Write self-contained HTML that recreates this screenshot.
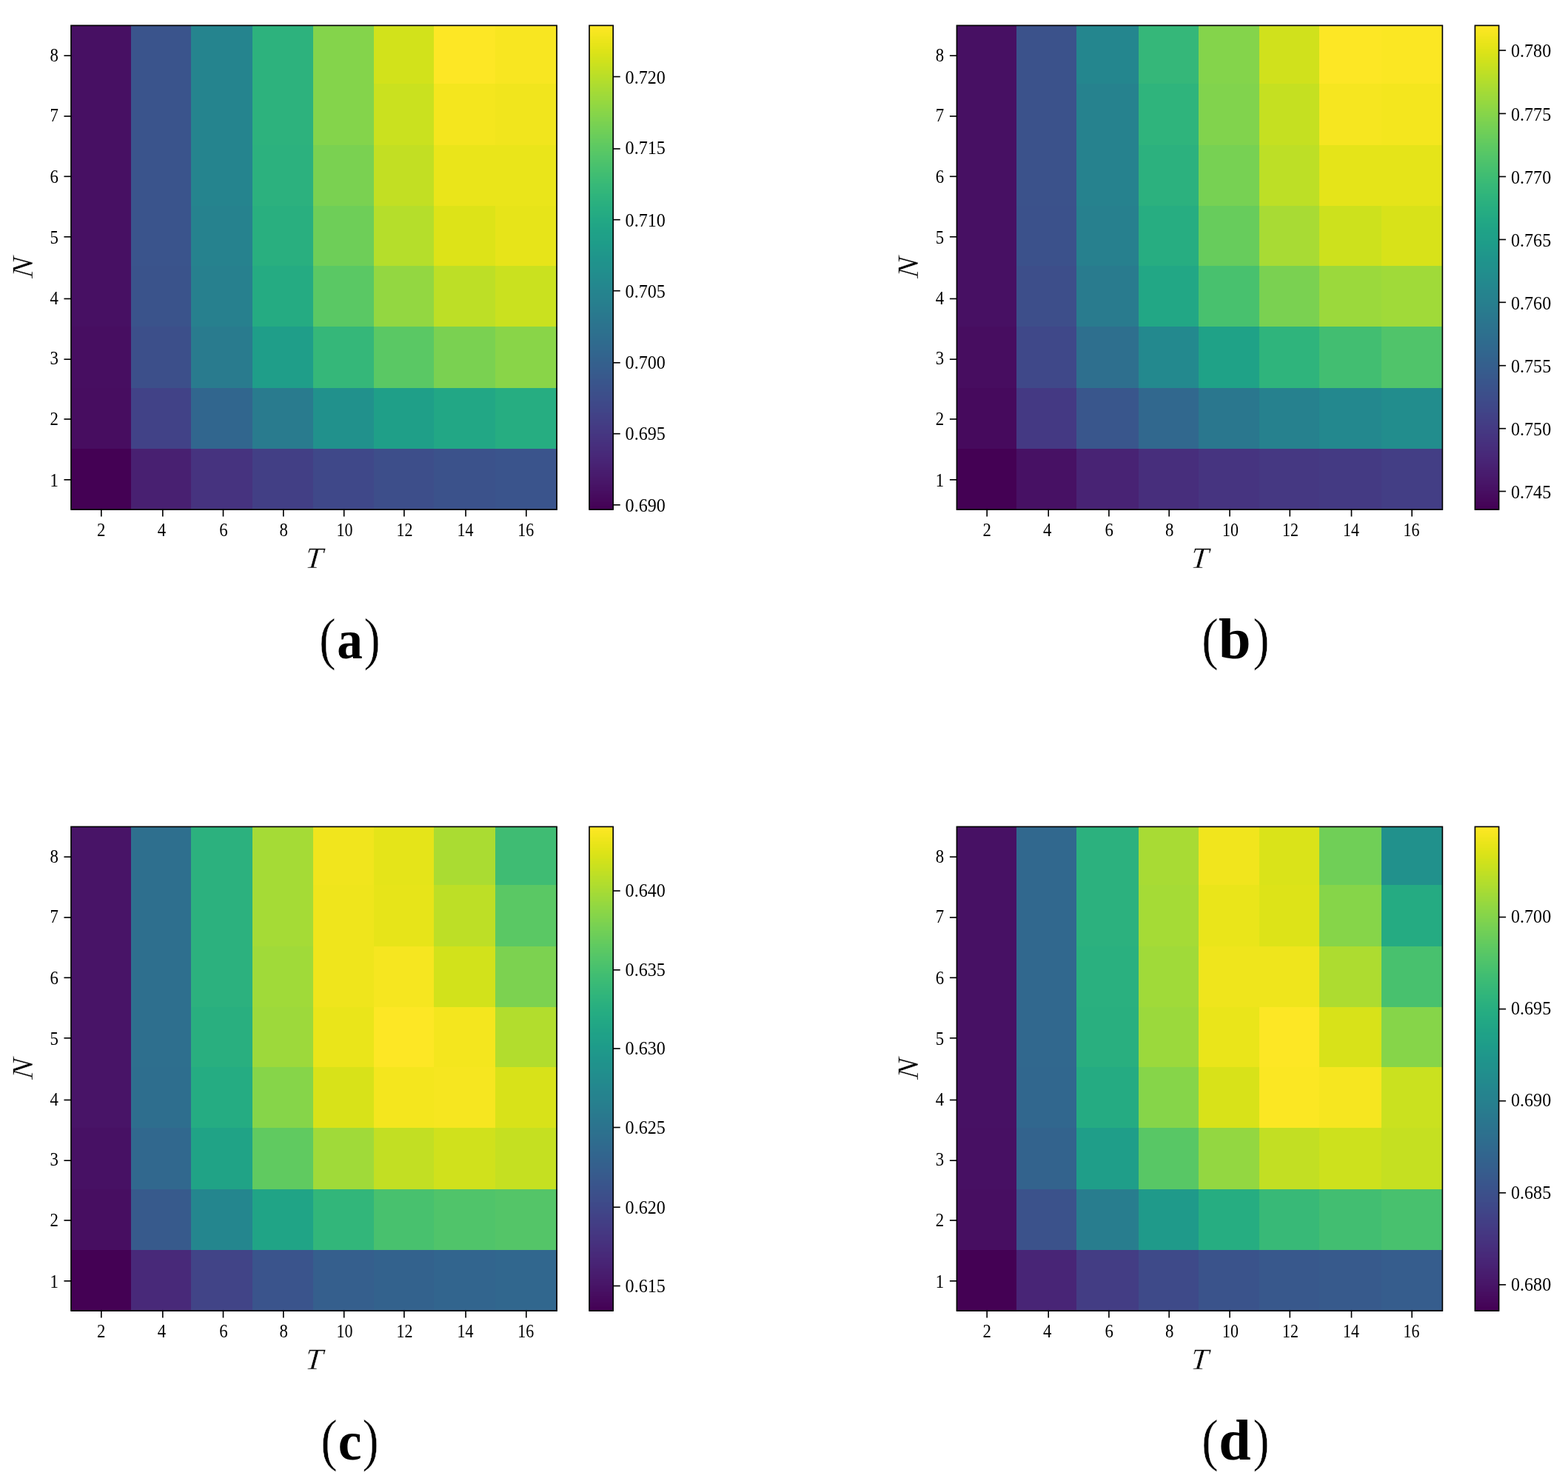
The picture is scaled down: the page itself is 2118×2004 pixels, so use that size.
<!DOCTYPE html>
<html lang="en">
<head>
<meta charset="utf-8">
<title>Heatmaps of N versus T</title>
<style>
html,body{margin:0;padding:0;background:#fff;}
body{width:2118px;height:2004px;overflow:hidden;}
svg{display:block;}
.tk{font-family:"Liberation Serif","DejaVu Serif",serif;font-size:25.7px;fill:#000;}
.lab{font-family:"Liberation Serif","DejaVu Serif",serif;font-style:italic;font-size:40.2px;fill:#000;stroke:#fff;stroke-width:0.35px;}
.cap{font-family:"Liberation Serif","DejaVu Serif",serif;font-size:72px;fill:#000;}
.cap .b{font-weight:bold;}
.cap .p{stroke:#fff;stroke-width:0.5px;}
.ln{stroke:#000;stroke-width:1.65;fill:none;}
</style>
</head>
<body>
<svg width="2118" height="2004" viewBox="0 0 2118 2004" role="img" aria-label="Four heatmaps of N versus T with colorbars, panels (a) to (d)">
<rect x="0" y="0" width="2118" height="2004" fill="#fff"/>
<g id="panel-a" transform="translate(0,0)">
<g shape-rendering="crispEdges">
<rect x="96" y="34.4" width="81.3" height="79.2" fill="#471063"/>
<rect x="176.8" y="34.4" width="81.6" height="79.2" fill="#3a548c"/>
<rect x="257.9" y="34.4" width="84" height="79.2" fill="#25848e"/>
<rect x="341.4" y="34.4" width="82.1" height="79.2" fill="#2db27d"/>
<rect x="423" y="34.4" width="82.3" height="79.2" fill="#84d44b"/>
<rect x="504.8" y="34.4" width="81.5" height="79.2" fill="#d2e21b"/>
<rect x="585.8" y="34.4" width="84.1" height="79.2" fill="#fde725"/>
<rect x="669.4" y="34.4" width="83.1" height="79.2" fill="#f8e621"/>
<rect x="96" y="113.1" width="81.3" height="83.7" fill="#471063"/>
<rect x="176.8" y="113.1" width="81.6" height="83.7" fill="#3a548c"/>
<rect x="257.9" y="113.1" width="84" height="83.7" fill="#25848e"/>
<rect x="341.4" y="113.1" width="82.1" height="83.7" fill="#2db27d"/>
<rect x="423" y="113.1" width="82.3" height="83.7" fill="#84d44b"/>
<rect x="504.8" y="113.1" width="81.5" height="83.7" fill="#cae11f"/>
<rect x="585.8" y="113.1" width="84.1" height="83.7" fill="#f4e61e"/>
<rect x="669.4" y="113.1" width="83.1" height="83.7" fill="#f1e51d"/>
<rect x="96" y="196.3" width="81.3" height="81.8" fill="#471063"/>
<rect x="176.8" y="196.3" width="81.6" height="81.8" fill="#3a548c"/>
<rect x="257.9" y="196.3" width="84" height="81.8" fill="#25848e"/>
<rect x="341.4" y="196.3" width="82.1" height="81.8" fill="#2cb17e"/>
<rect x="423" y="196.3" width="82.3" height="81.8" fill="#7ad151"/>
<rect x="504.8" y="196.3" width="81.5" height="81.8" fill="#c2df23"/>
<rect x="585.8" y="196.3" width="84.1" height="81.8" fill="#eae51a"/>
<rect x="669.4" y="196.3" width="83.1" height="81.8" fill="#eae51a"/>
<rect x="96" y="277.6" width="81.3" height="81.9" fill="#471063"/>
<rect x="176.8" y="277.6" width="81.6" height="81.9" fill="#3a548c"/>
<rect x="257.9" y="277.6" width="84" height="81.9" fill="#26828e"/>
<rect x="341.4" y="277.6" width="82.1" height="81.9" fill="#29af7f"/>
<rect x="423" y="277.6" width="82.3" height="81.9" fill="#6ece58"/>
<rect x="504.8" y="277.6" width="81.5" height="81.9" fill="#b5de2b"/>
<rect x="585.8" y="277.6" width="84.1" height="81.9" fill="#dde318"/>
<rect x="669.4" y="277.6" width="83.1" height="81.9" fill="#e7e419"/>
<rect x="96" y="359" width="81.3" height="82.4" fill="#471063"/>
<rect x="176.8" y="359" width="81.6" height="82.4" fill="#3a538b"/>
<rect x="257.9" y="359" width="84" height="82.4" fill="#27808e"/>
<rect x="341.4" y="359" width="82.1" height="82.4" fill="#25ab82"/>
<rect x="423" y="359" width="82.3" height="82.4" fill="#5ac864"/>
<rect x="504.8" y="359" width="81.5" height="82.4" fill="#93d741"/>
<rect x="585.8" y="359" width="84.1" height="82.4" fill="#bddf26"/>
<rect x="669.4" y="359" width="83.1" height="82.4" fill="#cae11f"/>
<rect x="96" y="440.9" width="81.3" height="83.9" fill="#470e61"/>
<rect x="176.8" y="440.9" width="81.6" height="83.9" fill="#3c4f8a"/>
<rect x="257.9" y="440.9" width="84" height="83.9" fill="#297b8e"/>
<rect x="341.4" y="440.9" width="82.1" height="83.9" fill="#1f9e89"/>
<rect x="423" y="440.9" width="82.3" height="83.9" fill="#35b779"/>
<rect x="504.8" y="440.9" width="81.5" height="83.9" fill="#5ac864"/>
<rect x="585.8" y="440.9" width="84.1" height="83.9" fill="#7ad151"/>
<rect x="669.4" y="440.9" width="83.1" height="83.9" fill="#89d548"/>
<rect x="96" y="524.3" width="81.3" height="82.3" fill="#470d60"/>
<rect x="176.8" y="524.3" width="81.6" height="82.3" fill="#414287"/>
<rect x="257.9" y="524.3" width="84" height="82.3" fill="#31668e"/>
<rect x="341.4" y="524.3" width="82.1" height="82.3" fill="#297b8e"/>
<rect x="423" y="524.3" width="82.3" height="82.3" fill="#21918c"/>
<rect x="504.8" y="524.3" width="81.5" height="82.3" fill="#1f9f88"/>
<rect x="585.8" y="524.3" width="84.1" height="82.3" fill="#22a785"/>
<rect x="669.4" y="524.3" width="83.1" height="82.3" fill="#26ad81"/>
<rect x="96" y="606.1" width="81.3" height="82.4" fill="#440154"/>
<rect x="176.8" y="606.1" width="81.6" height="82.4" fill="#482071"/>
<rect x="257.9" y="606.1" width="84" height="82.4" fill="#46337f"/>
<rect x="341.4" y="606.1" width="82.1" height="82.4" fill="#423f85"/>
<rect x="423" y="606.1" width="82.3" height="82.4" fill="#3f4889"/>
<rect x="504.8" y="606.1" width="81.5" height="82.4" fill="#3d4e8a"/>
<rect x="585.8" y="606.1" width="84.1" height="82.4" fill="#3b528b"/>
<rect x="669.4" y="606.1" width="83.1" height="82.4" fill="#3a548c"/>
</g>
<rect class="ln" x="96" y="34.4" width="656" height="653.6"/>
<line class="ln" x1="136.8" y1="688" x2="136.8" y2="697.53"/>
<text class="tk" x="136.7" y="724.4" text-anchor="middle" textLength="11.4" lengthAdjust="spacingAndGlyphs">2</text>
<line class="ln" x1="219.8" y1="688" x2="219.8" y2="697.53"/>
<text class="tk" x="218.4" y="724.4" text-anchor="middle" textLength="11.4" lengthAdjust="spacingAndGlyphs">4</text>
<line class="ln" x1="301.5" y1="688" x2="301.5" y2="697.53"/>
<text class="tk" x="301.9" y="724.4" text-anchor="middle" textLength="11.4" lengthAdjust="spacingAndGlyphs">6</text>
<line class="ln" x1="382.8" y1="688" x2="382.8" y2="697.53"/>
<text class="tk" x="383.3" y="724.4" text-anchor="middle" textLength="11.4" lengthAdjust="spacingAndGlyphs">8</text>
<line class="ln" x1="464.7" y1="688" x2="464.7" y2="697.53"/>
<text class="tk" x="465.5" y="724.4" text-anchor="middle" textLength="22" lengthAdjust="spacingAndGlyphs">10</text>
<line class="ln" x1="545.9" y1="688" x2="545.9" y2="697.53"/>
<text class="tk" x="546.6" y="724.4" text-anchor="middle" textLength="22" lengthAdjust="spacingAndGlyphs">12</text>
<line class="ln" x1="629.1" y1="688" x2="629.1" y2="697.53"/>
<text class="tk" x="628.5" y="724.4" text-anchor="middle" textLength="22" lengthAdjust="spacingAndGlyphs">14</text>
<line class="ln" x1="710.8" y1="688" x2="710.8" y2="697.53"/>
<text class="tk" x="710.2" y="724.4" text-anchor="middle" textLength="22" lengthAdjust="spacingAndGlyphs">16</text>
<line class="ln" x1="86.47" y1="75.2" x2="96" y2="75.2"/>
<text class="tk" x="78.8" y="83" text-anchor="end" textLength="11.4" lengthAdjust="spacingAndGlyphs">8</text>
<line class="ln" x1="86.47" y1="156.95" x2="96" y2="156.95"/>
<text class="tk" x="78.8" y="164" text-anchor="end" textLength="11.4" lengthAdjust="spacingAndGlyphs">7</text>
<line class="ln" x1="86.47" y1="238.3" x2="96" y2="238.3"/>
<text class="tk" x="78.8" y="247.3" text-anchor="end" textLength="11.4" lengthAdjust="spacingAndGlyphs">6</text>
<line class="ln" x1="86.47" y1="319.8" x2="96" y2="319.8"/>
<text class="tk" x="78.8" y="329.4" text-anchor="end" textLength="11.4" lengthAdjust="spacingAndGlyphs">5</text>
<line class="ln" x1="86.47" y1="403.45" x2="96" y2="403.45"/>
<text class="tk" x="78.8" y="410.65" text-anchor="end" textLength="11.4" lengthAdjust="spacingAndGlyphs">4</text>
<line class="ln" x1="86.47" y1="485.2" x2="96" y2="485.2"/>
<text class="tk" x="78.8" y="492.2" text-anchor="end" textLength="11.4" lengthAdjust="spacingAndGlyphs">3</text>
<line class="ln" x1="86.47" y1="566" x2="96" y2="566"/>
<text class="tk" x="78.8" y="574.2" text-anchor="end" textLength="11.4" lengthAdjust="spacingAndGlyphs">2</text>
<line class="ln" x1="86.47" y1="647.85" x2="96" y2="647.85"/>
<text class="tk" x="78.8" y="656.5" text-anchor="end" textLength="11.4" lengthAdjust="spacingAndGlyphs">1</text>
<text class="lab" transform="translate(423.2,767.2) skewX(-5) scale(1.05,1)" text-anchor="middle">T</text>
<text class="lab" transform="translate(43.6,362) rotate(-90) skewX(-5) scale(1.04,1)" text-anchor="middle">N</text>
<g class="cb" shape-rendering="crispEdges">
<rect x="796" y="685.45" width="32.2" height="3.15" fill="#440154"/>
<rect x="796" y="682.89" width="32.2" height="3.15" fill="#440256"/>
<rect x="796" y="680.34" width="32.2" height="3.15" fill="#450457"/>
<rect x="796" y="677.79" width="32.2" height="3.15" fill="#450559"/>
<rect x="796" y="675.23" width="32.2" height="3.15" fill="#46075a"/>
<rect x="796" y="672.68" width="32.2" height="3.15" fill="#46085c"/>
<rect x="796" y="670.13" width="32.2" height="3.15" fill="#460a5d"/>
<rect x="796" y="667.58" width="32.2" height="3.15" fill="#460b5e"/>
<rect x="796" y="665.02" width="32.2" height="3.15" fill="#470d60"/>
<rect x="796" y="662.47" width="32.2" height="3.15" fill="#470e61"/>
<rect x="796" y="659.92" width="32.2" height="3.15" fill="#471063"/>
<rect x="796" y="657.36" width="32.2" height="3.15" fill="#471164"/>
<rect x="796" y="654.81" width="32.2" height="3.15" fill="#471365"/>
<rect x="796" y="652.26" width="32.2" height="3.15" fill="#481467"/>
<rect x="796" y="649.7" width="32.2" height="3.15" fill="#481668"/>
<rect x="796" y="647.15" width="32.2" height="3.15" fill="#481769"/>
<rect x="796" y="644.6" width="32.2" height="3.15" fill="#48186a"/>
<rect x="796" y="642.04" width="32.2" height="3.15" fill="#481a6c"/>
<rect x="796" y="639.49" width="32.2" height="3.15" fill="#481b6d"/>
<rect x="796" y="636.94" width="32.2" height="3.15" fill="#481c6e"/>
<rect x="796" y="634.38" width="32.2" height="3.15" fill="#481d6f"/>
<rect x="796" y="631.83" width="32.2" height="3.15" fill="#481f70"/>
<rect x="796" y="629.28" width="32.2" height="3.15" fill="#482071"/>
<rect x="796" y="626.73" width="32.2" height="3.15" fill="#482173"/>
<rect x="796" y="624.17" width="32.2" height="3.15" fill="#482374"/>
<rect x="796" y="621.62" width="32.2" height="3.15" fill="#482475"/>
<rect x="796" y="619.07" width="32.2" height="3.15" fill="#482576"/>
<rect x="796" y="616.51" width="32.2" height="3.15" fill="#482677"/>
<rect x="796" y="613.96" width="32.2" height="3.15" fill="#482878"/>
<rect x="796" y="611.41" width="32.2" height="3.15" fill="#482979"/>
<rect x="796" y="608.85" width="32.2" height="3.15" fill="#472a7a"/>
<rect x="796" y="606.3" width="32.2" height="3.15" fill="#472c7a"/>
<rect x="796" y="603.75" width="32.2" height="3.15" fill="#472d7b"/>
<rect x="796" y="601.19" width="32.2" height="3.15" fill="#472e7c"/>
<rect x="796" y="598.64" width="32.2" height="3.15" fill="#472f7d"/>
<rect x="796" y="596.09" width="32.2" height="3.15" fill="#46307e"/>
<rect x="796" y="593.53" width="32.2" height="3.15" fill="#46327e"/>
<rect x="796" y="590.98" width="32.2" height="3.15" fill="#46337f"/>
<rect x="796" y="588.43" width="32.2" height="3.15" fill="#463480"/>
<rect x="796" y="585.88" width="32.2" height="3.15" fill="#453581"/>
<rect x="796" y="583.32" width="32.2" height="3.15" fill="#453781"/>
<rect x="796" y="580.77" width="32.2" height="3.15" fill="#453882"/>
<rect x="796" y="578.22" width="32.2" height="3.15" fill="#443983"/>
<rect x="796" y="575.66" width="32.2" height="3.15" fill="#443a83"/>
<rect x="796" y="573.11" width="32.2" height="3.15" fill="#443b84"/>
<rect x="796" y="570.56" width="32.2" height="3.15" fill="#433d84"/>
<rect x="796" y="568" width="32.2" height="3.15" fill="#433e85"/>
<rect x="796" y="565.45" width="32.2" height="3.15" fill="#423f85"/>
<rect x="796" y="562.9" width="32.2" height="3.15" fill="#424086"/>
<rect x="796" y="560.34" width="32.2" height="3.15" fill="#424186"/>
<rect x="796" y="557.79" width="32.2" height="3.15" fill="#414287"/>
<rect x="796" y="555.24" width="32.2" height="3.15" fill="#414487"/>
<rect x="796" y="552.68" width="32.2" height="3.15" fill="#404588"/>
<rect x="796" y="550.13" width="32.2" height="3.15" fill="#404688"/>
<rect x="796" y="547.58" width="32.2" height="3.15" fill="#3f4788"/>
<rect x="796" y="545.02" width="32.2" height="3.15" fill="#3f4889"/>
<rect x="796" y="542.47" width="32.2" height="3.15" fill="#3e4989"/>
<rect x="796" y="539.92" width="32.2" height="3.15" fill="#3e4a89"/>
<rect x="796" y="537.37" width="32.2" height="3.15" fill="#3e4c8a"/>
<rect x="796" y="534.81" width="32.2" height="3.15" fill="#3d4d8a"/>
<rect x="796" y="532.26" width="32.2" height="3.15" fill="#3d4e8a"/>
<rect x="796" y="529.71" width="32.2" height="3.15" fill="#3c4f8a"/>
<rect x="796" y="527.15" width="32.2" height="3.15" fill="#3c508b"/>
<rect x="796" y="524.6" width="32.2" height="3.15" fill="#3b518b"/>
<rect x="796" y="522.05" width="32.2" height="3.15" fill="#3b528b"/>
<rect x="796" y="519.49" width="32.2" height="3.15" fill="#3a538b"/>
<rect x="796" y="516.94" width="32.2" height="3.15" fill="#3a548c"/>
<rect x="796" y="514.39" width="32.2" height="3.15" fill="#39558c"/>
<rect x="796" y="511.83" width="32.2" height="3.15" fill="#39568c"/>
<rect x="796" y="509.28" width="32.2" height="3.15" fill="#38588c"/>
<rect x="796" y="506.73" width="32.2" height="3.15" fill="#38598c"/>
<rect x="796" y="504.17" width="32.2" height="3.15" fill="#375a8c"/>
<rect x="796" y="501.62" width="32.2" height="3.15" fill="#375b8d"/>
<rect x="796" y="499.07" width="32.2" height="3.15" fill="#365c8d"/>
<rect x="796" y="496.52" width="32.2" height="3.15" fill="#365d8d"/>
<rect x="796" y="493.96" width="32.2" height="3.15" fill="#355e8d"/>
<rect x="796" y="491.41" width="32.2" height="3.15" fill="#355f8d"/>
<rect x="796" y="488.86" width="32.2" height="3.15" fill="#34608d"/>
<rect x="796" y="486.3" width="32.2" height="3.15" fill="#34618d"/>
<rect x="796" y="483.75" width="32.2" height="3.15" fill="#33628d"/>
<rect x="796" y="481.2" width="32.2" height="3.15" fill="#33638d"/>
<rect x="796" y="478.64" width="32.2" height="3.15" fill="#32648e"/>
<rect x="796" y="476.09" width="32.2" height="3.15" fill="#32658e"/>
<rect x="796" y="473.54" width="32.2" height="3.15" fill="#31668e"/>
<rect x="796" y="470.98" width="32.2" height="3.15" fill="#31678e"/>
<rect x="796" y="468.43" width="32.2" height="3.15" fill="#31688e"/>
<rect x="796" y="465.88" width="32.2" height="3.15" fill="#30698e"/>
<rect x="796" y="463.32" width="32.2" height="3.15" fill="#306a8e"/>
<rect x="796" y="460.77" width="32.2" height="3.15" fill="#2f6b8e"/>
<rect x="796" y="458.22" width="32.2" height="3.15" fill="#2f6c8e"/>
<rect x="796" y="455.67" width="32.2" height="3.15" fill="#2e6d8e"/>
<rect x="796" y="453.11" width="32.2" height="3.15" fill="#2e6e8e"/>
<rect x="796" y="450.56" width="32.2" height="3.15" fill="#2e6f8e"/>
<rect x="796" y="448.01" width="32.2" height="3.15" fill="#2d708e"/>
<rect x="796" y="445.45" width="32.2" height="3.15" fill="#2d718e"/>
<rect x="796" y="442.9" width="32.2" height="3.15" fill="#2c718e"/>
<rect x="796" y="440.35" width="32.2" height="3.15" fill="#2c728e"/>
<rect x="796" y="437.79" width="32.2" height="3.15" fill="#2c738e"/>
<rect x="796" y="435.24" width="32.2" height="3.15" fill="#2b748e"/>
<rect x="796" y="432.69" width="32.2" height="3.15" fill="#2b758e"/>
<rect x="796" y="430.13" width="32.2" height="3.15" fill="#2a768e"/>
<rect x="796" y="427.58" width="32.2" height="3.15" fill="#2a778e"/>
<rect x="796" y="425.03" width="32.2" height="3.15" fill="#2a788e"/>
<rect x="796" y="422.47" width="32.2" height="3.15" fill="#29798e"/>
<rect x="796" y="419.92" width="32.2" height="3.15" fill="#297a8e"/>
<rect x="796" y="417.37" width="32.2" height="3.15" fill="#297b8e"/>
<rect x="796" y="414.82" width="32.2" height="3.15" fill="#287c8e"/>
<rect x="796" y="412.26" width="32.2" height="3.15" fill="#287d8e"/>
<rect x="796" y="409.71" width="32.2" height="3.15" fill="#277e8e"/>
<rect x="796" y="407.16" width="32.2" height="3.15" fill="#277f8e"/>
<rect x="796" y="404.6" width="32.2" height="3.15" fill="#27808e"/>
<rect x="796" y="402.05" width="32.2" height="3.15" fill="#26818e"/>
<rect x="796" y="399.5" width="32.2" height="3.15" fill="#26828e"/>
<rect x="796" y="396.94" width="32.2" height="3.15" fill="#26828e"/>
<rect x="796" y="394.39" width="32.2" height="3.15" fill="#25838e"/>
<rect x="796" y="391.84" width="32.2" height="3.15" fill="#25848e"/>
<rect x="796" y="389.28" width="32.2" height="3.15" fill="#25858e"/>
<rect x="796" y="386.73" width="32.2" height="3.15" fill="#24868e"/>
<rect x="796" y="384.18" width="32.2" height="3.15" fill="#24878e"/>
<rect x="796" y="381.62" width="32.2" height="3.15" fill="#23888e"/>
<rect x="796" y="379.07" width="32.2" height="3.15" fill="#23898e"/>
<rect x="796" y="376.52" width="32.2" height="3.15" fill="#238a8d"/>
<rect x="796" y="373.97" width="32.2" height="3.15" fill="#228b8d"/>
<rect x="796" y="371.41" width="32.2" height="3.15" fill="#228c8d"/>
<rect x="796" y="368.86" width="32.2" height="3.15" fill="#228d8d"/>
<rect x="796" y="366.31" width="32.2" height="3.15" fill="#218e8d"/>
<rect x="796" y="363.75" width="32.2" height="3.15" fill="#218f8d"/>
<rect x="796" y="361.2" width="32.2" height="3.15" fill="#21908d"/>
<rect x="796" y="358.65" width="32.2" height="3.15" fill="#21918c"/>
<rect x="796" y="356.09" width="32.2" height="3.15" fill="#20928c"/>
<rect x="796" y="353.54" width="32.2" height="3.15" fill="#20928c"/>
<rect x="796" y="350.99" width="32.2" height="3.15" fill="#20938c"/>
<rect x="796" y="348.43" width="32.2" height="3.15" fill="#1f948c"/>
<rect x="796" y="345.88" width="32.2" height="3.15" fill="#1f958b"/>
<rect x="796" y="343.33" width="32.2" height="3.15" fill="#1f968b"/>
<rect x="796" y="340.77" width="32.2" height="3.15" fill="#1f978b"/>
<rect x="796" y="338.22" width="32.2" height="3.15" fill="#1f988b"/>
<rect x="796" y="335.67" width="32.2" height="3.15" fill="#1f998a"/>
<rect x="796" y="333.12" width="32.2" height="3.15" fill="#1f9a8a"/>
<rect x="796" y="330.56" width="32.2" height="3.15" fill="#1e9b8a"/>
<rect x="796" y="328.01" width="32.2" height="3.15" fill="#1e9c89"/>
<rect x="796" y="325.46" width="32.2" height="3.15" fill="#1e9d89"/>
<rect x="796" y="322.9" width="32.2" height="3.15" fill="#1f9e89"/>
<rect x="796" y="320.35" width="32.2" height="3.15" fill="#1f9f88"/>
<rect x="796" y="317.8" width="32.2" height="3.15" fill="#1fa088"/>
<rect x="796" y="315.24" width="32.2" height="3.15" fill="#1fa188"/>
<rect x="796" y="312.69" width="32.2" height="3.15" fill="#1fa187"/>
<rect x="796" y="310.14" width="32.2" height="3.15" fill="#1fa287"/>
<rect x="796" y="307.58" width="32.2" height="3.15" fill="#20a386"/>
<rect x="796" y="305.03" width="32.2" height="3.15" fill="#20a486"/>
<rect x="796" y="302.48" width="32.2" height="3.15" fill="#21a585"/>
<rect x="796" y="299.93" width="32.2" height="3.15" fill="#21a685"/>
<rect x="796" y="297.37" width="32.2" height="3.15" fill="#22a785"/>
<rect x="796" y="294.82" width="32.2" height="3.15" fill="#22a884"/>
<rect x="796" y="292.27" width="32.2" height="3.15" fill="#23a983"/>
<rect x="796" y="289.71" width="32.2" height="3.15" fill="#24aa83"/>
<rect x="796" y="287.16" width="32.2" height="3.15" fill="#25ab82"/>
<rect x="796" y="284.61" width="32.2" height="3.15" fill="#25ac82"/>
<rect x="796" y="282.05" width="32.2" height="3.15" fill="#26ad81"/>
<rect x="796" y="279.5" width="32.2" height="3.15" fill="#27ad81"/>
<rect x="796" y="276.95" width="32.2" height="3.15" fill="#28ae80"/>
<rect x="796" y="274.39" width="32.2" height="3.15" fill="#29af7f"/>
<rect x="796" y="271.84" width="32.2" height="3.15" fill="#2ab07f"/>
<rect x="796" y="269.29" width="32.2" height="3.15" fill="#2cb17e"/>
<rect x="796" y="266.73" width="32.2" height="3.15" fill="#2db27d"/>
<rect x="796" y="264.18" width="32.2" height="3.15" fill="#2eb37c"/>
<rect x="796" y="261.63" width="32.2" height="3.15" fill="#2fb47c"/>
<rect x="796" y="259.07" width="32.2" height="3.15" fill="#31b57b"/>
<rect x="796" y="256.52" width="32.2" height="3.15" fill="#32b67a"/>
<rect x="796" y="253.97" width="32.2" height="3.15" fill="#34b679"/>
<rect x="796" y="251.42" width="32.2" height="3.15" fill="#35b779"/>
<rect x="796" y="248.86" width="32.2" height="3.15" fill="#37b878"/>
<rect x="796" y="246.31" width="32.2" height="3.15" fill="#38b977"/>
<rect x="796" y="243.76" width="32.2" height="3.15" fill="#3aba76"/>
<rect x="796" y="241.2" width="32.2" height="3.15" fill="#3bbb75"/>
<rect x="796" y="238.65" width="32.2" height="3.15" fill="#3dbc74"/>
<rect x="796" y="236.1" width="32.2" height="3.15" fill="#3fbc73"/>
<rect x="796" y="233.54" width="32.2" height="3.15" fill="#40bd72"/>
<rect x="796" y="230.99" width="32.2" height="3.15" fill="#42be71"/>
<rect x="796" y="228.44" width="32.2" height="3.15" fill="#44bf70"/>
<rect x="796" y="225.88" width="32.2" height="3.15" fill="#46c06f"/>
<rect x="796" y="223.33" width="32.2" height="3.15" fill="#48c16e"/>
<rect x="796" y="220.78" width="32.2" height="3.15" fill="#4ac16d"/>
<rect x="796" y="218.22" width="32.2" height="3.15" fill="#4cc26c"/>
<rect x="796" y="215.67" width="32.2" height="3.15" fill="#4ec36b"/>
<rect x="796" y="213.12" width="32.2" height="3.15" fill="#50c46a"/>
<rect x="796" y="210.57" width="32.2" height="3.15" fill="#52c569"/>
<rect x="796" y="208.01" width="32.2" height="3.15" fill="#54c568"/>
<rect x="796" y="205.46" width="32.2" height="3.15" fill="#56c667"/>
<rect x="796" y="202.91" width="32.2" height="3.15" fill="#58c765"/>
<rect x="796" y="200.35" width="32.2" height="3.15" fill="#5ac864"/>
<rect x="796" y="197.8" width="32.2" height="3.15" fill="#5cc863"/>
<rect x="796" y="195.25" width="32.2" height="3.15" fill="#5ec962"/>
<rect x="796" y="192.69" width="32.2" height="3.15" fill="#60ca60"/>
<rect x="796" y="190.14" width="32.2" height="3.15" fill="#63cb5f"/>
<rect x="796" y="187.59" width="32.2" height="3.15" fill="#65cb5e"/>
<rect x="796" y="185.03" width="32.2" height="3.15" fill="#67cc5c"/>
<rect x="796" y="182.48" width="32.2" height="3.15" fill="#69cd5b"/>
<rect x="796" y="179.93" width="32.2" height="3.15" fill="#6ccd5a"/>
<rect x="796" y="177.38" width="32.2" height="3.15" fill="#6ece58"/>
<rect x="796" y="174.82" width="32.2" height="3.15" fill="#70cf57"/>
<rect x="796" y="172.27" width="32.2" height="3.15" fill="#73d056"/>
<rect x="796" y="169.72" width="32.2" height="3.15" fill="#75d054"/>
<rect x="796" y="167.16" width="32.2" height="3.15" fill="#77d153"/>
<rect x="796" y="164.61" width="32.2" height="3.15" fill="#7ad151"/>
<rect x="796" y="162.06" width="32.2" height="3.15" fill="#7cd250"/>
<rect x="796" y="159.5" width="32.2" height="3.15" fill="#7fd34e"/>
<rect x="796" y="156.95" width="32.2" height="3.15" fill="#81d34d"/>
<rect x="796" y="154.4" width="32.2" height="3.15" fill="#84d44b"/>
<rect x="796" y="151.84" width="32.2" height="3.15" fill="#86d549"/>
<rect x="796" y="149.29" width="32.2" height="3.15" fill="#89d548"/>
<rect x="796" y="146.74" width="32.2" height="3.15" fill="#8bd646"/>
<rect x="796" y="144.18" width="32.2" height="3.15" fill="#8ed645"/>
<rect x="796" y="141.63" width="32.2" height="3.15" fill="#90d743"/>
<rect x="796" y="139.08" width="32.2" height="3.15" fill="#93d741"/>
<rect x="796" y="136.52" width="32.2" height="3.15" fill="#95d840"/>
<rect x="796" y="133.97" width="32.2" height="3.15" fill="#98d83e"/>
<rect x="796" y="131.42" width="32.2" height="3.15" fill="#9bd93c"/>
<rect x="796" y="128.87" width="32.2" height="3.15" fill="#9dd93b"/>
<rect x="796" y="126.31" width="32.2" height="3.15" fill="#a0da39"/>
<rect x="796" y="123.76" width="32.2" height="3.15" fill="#a2da37"/>
<rect x="796" y="121.21" width="32.2" height="3.15" fill="#a5db36"/>
<rect x="796" y="118.65" width="32.2" height="3.15" fill="#a8db34"/>
<rect x="796" y="116.1" width="32.2" height="3.15" fill="#aadc32"/>
<rect x="796" y="113.55" width="32.2" height="3.15" fill="#addc30"/>
<rect x="796" y="110.99" width="32.2" height="3.15" fill="#b0dd2f"/>
<rect x="796" y="108.44" width="32.2" height="3.15" fill="#b2dd2d"/>
<rect x="796" y="105.89" width="32.2" height="3.15" fill="#b5de2b"/>
<rect x="796" y="103.33" width="32.2" height="3.15" fill="#b8de29"/>
<rect x="796" y="100.78" width="32.2" height="3.15" fill="#bade28"/>
<rect x="796" y="98.23" width="32.2" height="3.15" fill="#bddf26"/>
<rect x="796" y="95.67" width="32.2" height="3.15" fill="#c0df25"/>
<rect x="796" y="93.12" width="32.2" height="3.15" fill="#c2df23"/>
<rect x="796" y="90.57" width="32.2" height="3.15" fill="#c5e021"/>
<rect x="796" y="88.02" width="32.2" height="3.15" fill="#c8e020"/>
<rect x="796" y="85.46" width="32.2" height="3.15" fill="#cae11f"/>
<rect x="796" y="82.91" width="32.2" height="3.15" fill="#cde11d"/>
<rect x="796" y="80.36" width="32.2" height="3.15" fill="#d0e11c"/>
<rect x="796" y="77.8" width="32.2" height="3.15" fill="#d2e21b"/>
<rect x="796" y="75.25" width="32.2" height="3.15" fill="#d5e21a"/>
<rect x="796" y="72.7" width="32.2" height="3.15" fill="#d8e219"/>
<rect x="796" y="70.14" width="32.2" height="3.15" fill="#dae319"/>
<rect x="796" y="67.59" width="32.2" height="3.15" fill="#dde318"/>
<rect x="796" y="65.04" width="32.2" height="3.15" fill="#dfe318"/>
<rect x="796" y="62.48" width="32.2" height="3.15" fill="#e2e418"/>
<rect x="796" y="59.93" width="32.2" height="3.15" fill="#e5e419"/>
<rect x="796" y="57.38" width="32.2" height="3.15" fill="#e7e419"/>
<rect x="796" y="54.82" width="32.2" height="3.15" fill="#eae51a"/>
<rect x="796" y="52.27" width="32.2" height="3.15" fill="#ece51b"/>
<rect x="796" y="49.72" width="32.2" height="3.15" fill="#efe51c"/>
<rect x="796" y="47.17" width="32.2" height="3.15" fill="#f1e51d"/>
<rect x="796" y="44.61" width="32.2" height="3.15" fill="#f4e61e"/>
<rect x="796" y="42.06" width="32.2" height="3.15" fill="#f6e620"/>
<rect x="796" y="39.51" width="32.2" height="3.15" fill="#f8e621"/>
<rect x="796" y="36.95" width="32.2" height="3.15" fill="#fbe723"/>
<rect x="796" y="34.4" width="32.2" height="3.15" fill="#fde725"/>
</g>
<rect class="ln" x="796" y="34.4" width="32.2" height="653.6"/>
<line class="ln" x1="828.2" y1="103.55" x2="837.73" y2="103.55"/>
<text class="tk" x="844.6" y="113.1" textLength="54.2" lengthAdjust="spacingAndGlyphs">0.720</text>
<line class="ln" x1="828.2" y1="200.95" x2="837.73" y2="200.95"/>
<text class="tk" x="844.6" y="208.3" textLength="54.2" lengthAdjust="spacingAndGlyphs">0.715</text>
<line class="ln" x1="828.2" y1="296.7" x2="837.73" y2="296.7"/>
<text class="tk" x="844.6" y="306.1" textLength="54.2" lengthAdjust="spacingAndGlyphs">0.710</text>
<line class="ln" x1="828.2" y1="392.7" x2="837.73" y2="392.7"/>
<text class="tk" x="844.6" y="402" textLength="54.2" lengthAdjust="spacingAndGlyphs">0.705</text>
<line class="ln" x1="828.2" y1="489.8" x2="837.73" y2="489.8"/>
<text class="tk" x="844.6" y="498.3" textLength="54.2" lengthAdjust="spacingAndGlyphs">0.700</text>
<line class="ln" x1="828.2" y1="585.7" x2="837.73" y2="585.7"/>
<text class="tk" x="844.6" y="594.15" textLength="54.2" lengthAdjust="spacingAndGlyphs">0.695</text>
<line class="ln" x1="828.2" y1="681.8" x2="837.73" y2="681.8"/>
<text class="tk" x="844.6" y="691.1" textLength="54.2" lengthAdjust="spacingAndGlyphs">0.690</text>
<g class="cap"><text class="p" transform="translate(431.01,888.56) scale(0.9532,1.0741)">(</text><text class="b" transform="translate(455.32,889.03) scale(0.9615,1.0263)">a</text><text class="p" transform="translate(491.39,888.56) scale(0.9295,1.0741)">)</text></g>
</g>
<g id="panel-b" transform="translate(1196.4,0)">
<g shape-rendering="crispEdges">
<rect x="96" y="34.4" width="81.3" height="79.2" fill="#471063"/>
<rect x="176.8" y="34.4" width="81.6" height="79.2" fill="#3b528b"/>
<rect x="257.9" y="34.4" width="84" height="79.2" fill="#24868e"/>
<rect x="341.4" y="34.4" width="82.1" height="79.2" fill="#35b779"/>
<rect x="423" y="34.4" width="82.3" height="79.2" fill="#84d44b"/>
<rect x="504.8" y="34.4" width="81.5" height="79.2" fill="#d0e11c"/>
<rect x="585.8" y="34.4" width="84.1" height="79.2" fill="#fde725"/>
<rect x="669.4" y="34.4" width="83.1" height="79.2" fill="#fbe723"/>
<rect x="96" y="113.1" width="81.3" height="83.7" fill="#471063"/>
<rect x="176.8" y="113.1" width="81.6" height="83.7" fill="#3b528b"/>
<rect x="257.9" y="113.1" width="84" height="83.7" fill="#26828e"/>
<rect x="341.4" y="113.1" width="82.1" height="83.7" fill="#2fb47c"/>
<rect x="423" y="113.1" width="82.3" height="83.7" fill="#81d34d"/>
<rect x="504.8" y="113.1" width="81.5" height="83.7" fill="#c5e021"/>
<rect x="585.8" y="113.1" width="84.1" height="83.7" fill="#f6e620"/>
<rect x="669.4" y="113.1" width="83.1" height="83.7" fill="#f4e61e"/>
<rect x="96" y="196.3" width="81.3" height="81.8" fill="#471063"/>
<rect x="176.8" y="196.3" width="81.6" height="81.8" fill="#3b528b"/>
<rect x="257.9" y="196.3" width="84" height="81.8" fill="#26828e"/>
<rect x="341.4" y="196.3" width="82.1" height="81.8" fill="#2cb17e"/>
<rect x="423" y="196.3" width="82.3" height="81.8" fill="#77d153"/>
<rect x="504.8" y="196.3" width="81.5" height="81.8" fill="#bddf26"/>
<rect x="585.8" y="196.3" width="84.1" height="81.8" fill="#e5e419"/>
<rect x="669.4" y="196.3" width="83.1" height="81.8" fill="#e5e419"/>
<rect x="96" y="277.6" width="81.3" height="81.9" fill="#471063"/>
<rect x="176.8" y="277.6" width="81.6" height="81.9" fill="#3b518b"/>
<rect x="257.9" y="277.6" width="84" height="81.9" fill="#27808e"/>
<rect x="341.4" y="277.6" width="82.1" height="81.9" fill="#27ad81"/>
<rect x="423" y="277.6" width="82.3" height="81.9" fill="#67cc5c"/>
<rect x="504.8" y="277.6" width="81.5" height="81.9" fill="#a8db34"/>
<rect x="585.8" y="277.6" width="84.1" height="81.9" fill="#cde11d"/>
<rect x="669.4" y="277.6" width="83.1" height="81.9" fill="#d8e219"/>
<rect x="96" y="359" width="81.3" height="82.4" fill="#471063"/>
<rect x="176.8" y="359" width="81.6" height="82.4" fill="#3d4e8a"/>
<rect x="257.9" y="359" width="84" height="82.4" fill="#297b8e"/>
<rect x="341.4" y="359" width="82.1" height="82.4" fill="#22a785"/>
<rect x="423" y="359" width="82.3" height="82.4" fill="#48c16e"/>
<rect x="504.8" y="359" width="81.5" height="82.4" fill="#7ad151"/>
<rect x="585.8" y="359" width="84.1" height="82.4" fill="#9bd93c"/>
<rect x="669.4" y="359" width="83.1" height="82.4" fill="#a0da39"/>
<rect x="96" y="440.9" width="81.3" height="83.9" fill="#470d60"/>
<rect x="176.8" y="440.9" width="81.6" height="83.9" fill="#3f4889"/>
<rect x="257.9" y="440.9" width="84" height="83.9" fill="#2e6f8e"/>
<rect x="341.4" y="440.9" width="82.1" height="83.9" fill="#23898e"/>
<rect x="423" y="440.9" width="82.3" height="83.9" fill="#1fa287"/>
<rect x="504.8" y="440.9" width="81.5" height="83.9" fill="#2fb47c"/>
<rect x="585.8" y="440.9" width="84.1" height="83.9" fill="#42be71"/>
<rect x="669.4" y="440.9" width="83.1" height="83.9" fill="#50c46a"/>
<rect x="96" y="524.3" width="81.3" height="82.3" fill="#460a5d"/>
<rect x="176.8" y="524.3" width="81.6" height="82.3" fill="#443983"/>
<rect x="257.9" y="524.3" width="84" height="82.3" fill="#39568c"/>
<rect x="341.4" y="524.3" width="82.1" height="82.3" fill="#31688e"/>
<rect x="423" y="524.3" width="82.3" height="82.3" fill="#2a778e"/>
<rect x="504.8" y="524.3" width="81.5" height="82.3" fill="#26818e"/>
<rect x="585.8" y="524.3" width="84.1" height="82.3" fill="#23888e"/>
<rect x="669.4" y="524.3" width="83.1" height="82.3" fill="#228d8d"/>
<rect x="96" y="606.1" width="81.3" height="82.4" fill="#440154"/>
<rect x="176.8" y="606.1" width="81.6" height="82.4" fill="#471164"/>
<rect x="257.9" y="606.1" width="84" height="82.4" fill="#482374"/>
<rect x="341.4" y="606.1" width="82.1" height="82.4" fill="#472e7c"/>
<rect x="423" y="606.1" width="82.3" height="82.4" fill="#463480"/>
<rect x="504.8" y="606.1" width="81.5" height="82.4" fill="#453882"/>
<rect x="585.8" y="606.1" width="84.1" height="82.4" fill="#443a83"/>
<rect x="669.4" y="606.1" width="83.1" height="82.4" fill="#433e85"/>
</g>
<rect class="ln" x="96" y="34.4" width="656" height="653.6"/>
<line class="ln" x1="136.8" y1="688" x2="136.8" y2="697.53"/>
<text class="tk" x="136.7" y="724.4" text-anchor="middle" textLength="11.4" lengthAdjust="spacingAndGlyphs">2</text>
<line class="ln" x1="219.8" y1="688" x2="219.8" y2="697.53"/>
<text class="tk" x="218.4" y="724.4" text-anchor="middle" textLength="11.4" lengthAdjust="spacingAndGlyphs">4</text>
<line class="ln" x1="301.5" y1="688" x2="301.5" y2="697.53"/>
<text class="tk" x="301.9" y="724.4" text-anchor="middle" textLength="11.4" lengthAdjust="spacingAndGlyphs">6</text>
<line class="ln" x1="382.8" y1="688" x2="382.8" y2="697.53"/>
<text class="tk" x="383.3" y="724.4" text-anchor="middle" textLength="11.4" lengthAdjust="spacingAndGlyphs">8</text>
<line class="ln" x1="464.7" y1="688" x2="464.7" y2="697.53"/>
<text class="tk" x="465.5" y="724.4" text-anchor="middle" textLength="22" lengthAdjust="spacingAndGlyphs">10</text>
<line class="ln" x1="545.9" y1="688" x2="545.9" y2="697.53"/>
<text class="tk" x="546.6" y="724.4" text-anchor="middle" textLength="22" lengthAdjust="spacingAndGlyphs">12</text>
<line class="ln" x1="629.1" y1="688" x2="629.1" y2="697.53"/>
<text class="tk" x="628.5" y="724.4" text-anchor="middle" textLength="22" lengthAdjust="spacingAndGlyphs">14</text>
<line class="ln" x1="710.8" y1="688" x2="710.8" y2="697.53"/>
<text class="tk" x="710.2" y="724.4" text-anchor="middle" textLength="22" lengthAdjust="spacingAndGlyphs">16</text>
<line class="ln" x1="86.47" y1="75.2" x2="96" y2="75.2"/>
<text class="tk" x="78.8" y="83" text-anchor="end" textLength="11.4" lengthAdjust="spacingAndGlyphs">8</text>
<line class="ln" x1="86.47" y1="156.95" x2="96" y2="156.95"/>
<text class="tk" x="78.8" y="164" text-anchor="end" textLength="11.4" lengthAdjust="spacingAndGlyphs">7</text>
<line class="ln" x1="86.47" y1="238.3" x2="96" y2="238.3"/>
<text class="tk" x="78.8" y="247.3" text-anchor="end" textLength="11.4" lengthAdjust="spacingAndGlyphs">6</text>
<line class="ln" x1="86.47" y1="319.8" x2="96" y2="319.8"/>
<text class="tk" x="78.8" y="329.4" text-anchor="end" textLength="11.4" lengthAdjust="spacingAndGlyphs">5</text>
<line class="ln" x1="86.47" y1="403.45" x2="96" y2="403.45"/>
<text class="tk" x="78.8" y="410.65" text-anchor="end" textLength="11.4" lengthAdjust="spacingAndGlyphs">4</text>
<line class="ln" x1="86.47" y1="485.2" x2="96" y2="485.2"/>
<text class="tk" x="78.8" y="492.2" text-anchor="end" textLength="11.4" lengthAdjust="spacingAndGlyphs">3</text>
<line class="ln" x1="86.47" y1="566" x2="96" y2="566"/>
<text class="tk" x="78.8" y="574.2" text-anchor="end" textLength="11.4" lengthAdjust="spacingAndGlyphs">2</text>
<line class="ln" x1="86.47" y1="647.85" x2="96" y2="647.85"/>
<text class="tk" x="78.8" y="656.5" text-anchor="end" textLength="11.4" lengthAdjust="spacingAndGlyphs">1</text>
<text class="lab" transform="translate(423.2,767.2) skewX(-5) scale(1.05,1)" text-anchor="middle">T</text>
<text class="lab" transform="translate(43.6,362) rotate(-90) skewX(-5) scale(1.04,1)" text-anchor="middle">N</text>
<g class="cb" shape-rendering="crispEdges">
<rect x="796" y="685.45" width="32.2" height="3.15" fill="#440154"/>
<rect x="796" y="682.89" width="32.2" height="3.15" fill="#440256"/>
<rect x="796" y="680.34" width="32.2" height="3.15" fill="#450457"/>
<rect x="796" y="677.79" width="32.2" height="3.15" fill="#450559"/>
<rect x="796" y="675.23" width="32.2" height="3.15" fill="#46075a"/>
<rect x="796" y="672.68" width="32.2" height="3.15" fill="#46085c"/>
<rect x="796" y="670.13" width="32.2" height="3.15" fill="#460a5d"/>
<rect x="796" y="667.58" width="32.2" height="3.15" fill="#460b5e"/>
<rect x="796" y="665.02" width="32.2" height="3.15" fill="#470d60"/>
<rect x="796" y="662.47" width="32.2" height="3.15" fill="#470e61"/>
<rect x="796" y="659.92" width="32.2" height="3.15" fill="#471063"/>
<rect x="796" y="657.36" width="32.2" height="3.15" fill="#471164"/>
<rect x="796" y="654.81" width="32.2" height="3.15" fill="#471365"/>
<rect x="796" y="652.26" width="32.2" height="3.15" fill="#481467"/>
<rect x="796" y="649.7" width="32.2" height="3.15" fill="#481668"/>
<rect x="796" y="647.15" width="32.2" height="3.15" fill="#481769"/>
<rect x="796" y="644.6" width="32.2" height="3.15" fill="#48186a"/>
<rect x="796" y="642.04" width="32.2" height="3.15" fill="#481a6c"/>
<rect x="796" y="639.49" width="32.2" height="3.15" fill="#481b6d"/>
<rect x="796" y="636.94" width="32.2" height="3.15" fill="#481c6e"/>
<rect x="796" y="634.38" width="32.2" height="3.15" fill="#481d6f"/>
<rect x="796" y="631.83" width="32.2" height="3.15" fill="#481f70"/>
<rect x="796" y="629.28" width="32.2" height="3.15" fill="#482071"/>
<rect x="796" y="626.73" width="32.2" height="3.15" fill="#482173"/>
<rect x="796" y="624.17" width="32.2" height="3.15" fill="#482374"/>
<rect x="796" y="621.62" width="32.2" height="3.15" fill="#482475"/>
<rect x="796" y="619.07" width="32.2" height="3.15" fill="#482576"/>
<rect x="796" y="616.51" width="32.2" height="3.15" fill="#482677"/>
<rect x="796" y="613.96" width="32.2" height="3.15" fill="#482878"/>
<rect x="796" y="611.41" width="32.2" height="3.15" fill="#482979"/>
<rect x="796" y="608.85" width="32.2" height="3.15" fill="#472a7a"/>
<rect x="796" y="606.3" width="32.2" height="3.15" fill="#472c7a"/>
<rect x="796" y="603.75" width="32.2" height="3.15" fill="#472d7b"/>
<rect x="796" y="601.19" width="32.2" height="3.15" fill="#472e7c"/>
<rect x="796" y="598.64" width="32.2" height="3.15" fill="#472f7d"/>
<rect x="796" y="596.09" width="32.2" height="3.15" fill="#46307e"/>
<rect x="796" y="593.53" width="32.2" height="3.15" fill="#46327e"/>
<rect x="796" y="590.98" width="32.2" height="3.15" fill="#46337f"/>
<rect x="796" y="588.43" width="32.2" height="3.15" fill="#463480"/>
<rect x="796" y="585.88" width="32.2" height="3.15" fill="#453581"/>
<rect x="796" y="583.32" width="32.2" height="3.15" fill="#453781"/>
<rect x="796" y="580.77" width="32.2" height="3.15" fill="#453882"/>
<rect x="796" y="578.22" width="32.2" height="3.15" fill="#443983"/>
<rect x="796" y="575.66" width="32.2" height="3.15" fill="#443a83"/>
<rect x="796" y="573.11" width="32.2" height="3.15" fill="#443b84"/>
<rect x="796" y="570.56" width="32.2" height="3.15" fill="#433d84"/>
<rect x="796" y="568" width="32.2" height="3.15" fill="#433e85"/>
<rect x="796" y="565.45" width="32.2" height="3.15" fill="#423f85"/>
<rect x="796" y="562.9" width="32.2" height="3.15" fill="#424086"/>
<rect x="796" y="560.34" width="32.2" height="3.15" fill="#424186"/>
<rect x="796" y="557.79" width="32.2" height="3.15" fill="#414287"/>
<rect x="796" y="555.24" width="32.2" height="3.15" fill="#414487"/>
<rect x="796" y="552.68" width="32.2" height="3.15" fill="#404588"/>
<rect x="796" y="550.13" width="32.2" height="3.15" fill="#404688"/>
<rect x="796" y="547.58" width="32.2" height="3.15" fill="#3f4788"/>
<rect x="796" y="545.02" width="32.2" height="3.15" fill="#3f4889"/>
<rect x="796" y="542.47" width="32.2" height="3.15" fill="#3e4989"/>
<rect x="796" y="539.92" width="32.2" height="3.15" fill="#3e4a89"/>
<rect x="796" y="537.37" width="32.2" height="3.15" fill="#3e4c8a"/>
<rect x="796" y="534.81" width="32.2" height="3.15" fill="#3d4d8a"/>
<rect x="796" y="532.26" width="32.2" height="3.15" fill="#3d4e8a"/>
<rect x="796" y="529.71" width="32.2" height="3.15" fill="#3c4f8a"/>
<rect x="796" y="527.15" width="32.2" height="3.15" fill="#3c508b"/>
<rect x="796" y="524.6" width="32.2" height="3.15" fill="#3b518b"/>
<rect x="796" y="522.05" width="32.2" height="3.15" fill="#3b528b"/>
<rect x="796" y="519.49" width="32.2" height="3.15" fill="#3a538b"/>
<rect x="796" y="516.94" width="32.2" height="3.15" fill="#3a548c"/>
<rect x="796" y="514.39" width="32.2" height="3.15" fill="#39558c"/>
<rect x="796" y="511.83" width="32.2" height="3.15" fill="#39568c"/>
<rect x="796" y="509.28" width="32.2" height="3.15" fill="#38588c"/>
<rect x="796" y="506.73" width="32.2" height="3.15" fill="#38598c"/>
<rect x="796" y="504.17" width="32.2" height="3.15" fill="#375a8c"/>
<rect x="796" y="501.62" width="32.2" height="3.15" fill="#375b8d"/>
<rect x="796" y="499.07" width="32.2" height="3.15" fill="#365c8d"/>
<rect x="796" y="496.52" width="32.2" height="3.15" fill="#365d8d"/>
<rect x="796" y="493.96" width="32.2" height="3.15" fill="#355e8d"/>
<rect x="796" y="491.41" width="32.2" height="3.15" fill="#355f8d"/>
<rect x="796" y="488.86" width="32.2" height="3.15" fill="#34608d"/>
<rect x="796" y="486.3" width="32.2" height="3.15" fill="#34618d"/>
<rect x="796" y="483.75" width="32.2" height="3.15" fill="#33628d"/>
<rect x="796" y="481.2" width="32.2" height="3.15" fill="#33638d"/>
<rect x="796" y="478.64" width="32.2" height="3.15" fill="#32648e"/>
<rect x="796" y="476.09" width="32.2" height="3.15" fill="#32658e"/>
<rect x="796" y="473.54" width="32.2" height="3.15" fill="#31668e"/>
<rect x="796" y="470.98" width="32.2" height="3.15" fill="#31678e"/>
<rect x="796" y="468.43" width="32.2" height="3.15" fill="#31688e"/>
<rect x="796" y="465.88" width="32.2" height="3.15" fill="#30698e"/>
<rect x="796" y="463.32" width="32.2" height="3.15" fill="#306a8e"/>
<rect x="796" y="460.77" width="32.2" height="3.15" fill="#2f6b8e"/>
<rect x="796" y="458.22" width="32.2" height="3.15" fill="#2f6c8e"/>
<rect x="796" y="455.67" width="32.2" height="3.15" fill="#2e6d8e"/>
<rect x="796" y="453.11" width="32.2" height="3.15" fill="#2e6e8e"/>
<rect x="796" y="450.56" width="32.2" height="3.15" fill="#2e6f8e"/>
<rect x="796" y="448.01" width="32.2" height="3.15" fill="#2d708e"/>
<rect x="796" y="445.45" width="32.2" height="3.15" fill="#2d718e"/>
<rect x="796" y="442.9" width="32.2" height="3.15" fill="#2c718e"/>
<rect x="796" y="440.35" width="32.2" height="3.15" fill="#2c728e"/>
<rect x="796" y="437.79" width="32.2" height="3.15" fill="#2c738e"/>
<rect x="796" y="435.24" width="32.2" height="3.15" fill="#2b748e"/>
<rect x="796" y="432.69" width="32.2" height="3.15" fill="#2b758e"/>
<rect x="796" y="430.13" width="32.2" height="3.15" fill="#2a768e"/>
<rect x="796" y="427.58" width="32.2" height="3.15" fill="#2a778e"/>
<rect x="796" y="425.03" width="32.2" height="3.15" fill="#2a788e"/>
<rect x="796" y="422.47" width="32.2" height="3.15" fill="#29798e"/>
<rect x="796" y="419.92" width="32.2" height="3.15" fill="#297a8e"/>
<rect x="796" y="417.37" width="32.2" height="3.15" fill="#297b8e"/>
<rect x="796" y="414.82" width="32.2" height="3.15" fill="#287c8e"/>
<rect x="796" y="412.26" width="32.2" height="3.15" fill="#287d8e"/>
<rect x="796" y="409.71" width="32.2" height="3.15" fill="#277e8e"/>
<rect x="796" y="407.16" width="32.2" height="3.15" fill="#277f8e"/>
<rect x="796" y="404.6" width="32.2" height="3.15" fill="#27808e"/>
<rect x="796" y="402.05" width="32.2" height="3.15" fill="#26818e"/>
<rect x="796" y="399.5" width="32.2" height="3.15" fill="#26828e"/>
<rect x="796" y="396.94" width="32.2" height="3.15" fill="#26828e"/>
<rect x="796" y="394.39" width="32.2" height="3.15" fill="#25838e"/>
<rect x="796" y="391.84" width="32.2" height="3.15" fill="#25848e"/>
<rect x="796" y="389.28" width="32.2" height="3.15" fill="#25858e"/>
<rect x="796" y="386.73" width="32.2" height="3.15" fill="#24868e"/>
<rect x="796" y="384.18" width="32.2" height="3.15" fill="#24878e"/>
<rect x="796" y="381.62" width="32.2" height="3.15" fill="#23888e"/>
<rect x="796" y="379.07" width="32.2" height="3.15" fill="#23898e"/>
<rect x="796" y="376.52" width="32.2" height="3.15" fill="#238a8d"/>
<rect x="796" y="373.97" width="32.2" height="3.15" fill="#228b8d"/>
<rect x="796" y="371.41" width="32.2" height="3.15" fill="#228c8d"/>
<rect x="796" y="368.86" width="32.2" height="3.15" fill="#228d8d"/>
<rect x="796" y="366.31" width="32.2" height="3.15" fill="#218e8d"/>
<rect x="796" y="363.75" width="32.2" height="3.15" fill="#218f8d"/>
<rect x="796" y="361.2" width="32.2" height="3.15" fill="#21908d"/>
<rect x="796" y="358.65" width="32.2" height="3.15" fill="#21918c"/>
<rect x="796" y="356.09" width="32.2" height="3.15" fill="#20928c"/>
<rect x="796" y="353.54" width="32.2" height="3.15" fill="#20928c"/>
<rect x="796" y="350.99" width="32.2" height="3.15" fill="#20938c"/>
<rect x="796" y="348.43" width="32.2" height="3.15" fill="#1f948c"/>
<rect x="796" y="345.88" width="32.2" height="3.15" fill="#1f958b"/>
<rect x="796" y="343.33" width="32.2" height="3.15" fill="#1f968b"/>
<rect x="796" y="340.77" width="32.2" height="3.15" fill="#1f978b"/>
<rect x="796" y="338.22" width="32.2" height="3.15" fill="#1f988b"/>
<rect x="796" y="335.67" width="32.2" height="3.15" fill="#1f998a"/>
<rect x="796" y="333.12" width="32.2" height="3.15" fill="#1f9a8a"/>
<rect x="796" y="330.56" width="32.2" height="3.15" fill="#1e9b8a"/>
<rect x="796" y="328.01" width="32.2" height="3.15" fill="#1e9c89"/>
<rect x="796" y="325.46" width="32.2" height="3.15" fill="#1e9d89"/>
<rect x="796" y="322.9" width="32.2" height="3.15" fill="#1f9e89"/>
<rect x="796" y="320.35" width="32.2" height="3.15" fill="#1f9f88"/>
<rect x="796" y="317.8" width="32.2" height="3.15" fill="#1fa088"/>
<rect x="796" y="315.24" width="32.2" height="3.15" fill="#1fa188"/>
<rect x="796" y="312.69" width="32.2" height="3.15" fill="#1fa187"/>
<rect x="796" y="310.14" width="32.2" height="3.15" fill="#1fa287"/>
<rect x="796" y="307.58" width="32.2" height="3.15" fill="#20a386"/>
<rect x="796" y="305.03" width="32.2" height="3.15" fill="#20a486"/>
<rect x="796" y="302.48" width="32.2" height="3.15" fill="#21a585"/>
<rect x="796" y="299.93" width="32.2" height="3.15" fill="#21a685"/>
<rect x="796" y="297.37" width="32.2" height="3.15" fill="#22a785"/>
<rect x="796" y="294.82" width="32.2" height="3.15" fill="#22a884"/>
<rect x="796" y="292.27" width="32.2" height="3.15" fill="#23a983"/>
<rect x="796" y="289.71" width="32.2" height="3.15" fill="#24aa83"/>
<rect x="796" y="287.16" width="32.2" height="3.15" fill="#25ab82"/>
<rect x="796" y="284.61" width="32.2" height="3.15" fill="#25ac82"/>
<rect x="796" y="282.05" width="32.2" height="3.15" fill="#26ad81"/>
<rect x="796" y="279.5" width="32.2" height="3.15" fill="#27ad81"/>
<rect x="796" y="276.95" width="32.2" height="3.15" fill="#28ae80"/>
<rect x="796" y="274.39" width="32.2" height="3.15" fill="#29af7f"/>
<rect x="796" y="271.84" width="32.2" height="3.15" fill="#2ab07f"/>
<rect x="796" y="269.29" width="32.2" height="3.15" fill="#2cb17e"/>
<rect x="796" y="266.73" width="32.2" height="3.15" fill="#2db27d"/>
<rect x="796" y="264.18" width="32.2" height="3.15" fill="#2eb37c"/>
<rect x="796" y="261.63" width="32.2" height="3.15" fill="#2fb47c"/>
<rect x="796" y="259.07" width="32.2" height="3.15" fill="#31b57b"/>
<rect x="796" y="256.52" width="32.2" height="3.15" fill="#32b67a"/>
<rect x="796" y="253.97" width="32.2" height="3.15" fill="#34b679"/>
<rect x="796" y="251.42" width="32.2" height="3.15" fill="#35b779"/>
<rect x="796" y="248.86" width="32.2" height="3.15" fill="#37b878"/>
<rect x="796" y="246.31" width="32.2" height="3.15" fill="#38b977"/>
<rect x="796" y="243.76" width="32.2" height="3.15" fill="#3aba76"/>
<rect x="796" y="241.2" width="32.2" height="3.15" fill="#3bbb75"/>
<rect x="796" y="238.65" width="32.2" height="3.15" fill="#3dbc74"/>
<rect x="796" y="236.1" width="32.2" height="3.15" fill="#3fbc73"/>
<rect x="796" y="233.54" width="32.2" height="3.15" fill="#40bd72"/>
<rect x="796" y="230.99" width="32.2" height="3.15" fill="#42be71"/>
<rect x="796" y="228.44" width="32.2" height="3.15" fill="#44bf70"/>
<rect x="796" y="225.88" width="32.2" height="3.15" fill="#46c06f"/>
<rect x="796" y="223.33" width="32.2" height="3.15" fill="#48c16e"/>
<rect x="796" y="220.78" width="32.2" height="3.15" fill="#4ac16d"/>
<rect x="796" y="218.22" width="32.2" height="3.15" fill="#4cc26c"/>
<rect x="796" y="215.67" width="32.2" height="3.15" fill="#4ec36b"/>
<rect x="796" y="213.12" width="32.2" height="3.15" fill="#50c46a"/>
<rect x="796" y="210.57" width="32.2" height="3.15" fill="#52c569"/>
<rect x="796" y="208.01" width="32.2" height="3.15" fill="#54c568"/>
<rect x="796" y="205.46" width="32.2" height="3.15" fill="#56c667"/>
<rect x="796" y="202.91" width="32.2" height="3.15" fill="#58c765"/>
<rect x="796" y="200.35" width="32.2" height="3.15" fill="#5ac864"/>
<rect x="796" y="197.8" width="32.2" height="3.15" fill="#5cc863"/>
<rect x="796" y="195.25" width="32.2" height="3.15" fill="#5ec962"/>
<rect x="796" y="192.69" width="32.2" height="3.15" fill="#60ca60"/>
<rect x="796" y="190.14" width="32.2" height="3.15" fill="#63cb5f"/>
<rect x="796" y="187.59" width="32.2" height="3.15" fill="#65cb5e"/>
<rect x="796" y="185.03" width="32.2" height="3.15" fill="#67cc5c"/>
<rect x="796" y="182.48" width="32.2" height="3.15" fill="#69cd5b"/>
<rect x="796" y="179.93" width="32.2" height="3.15" fill="#6ccd5a"/>
<rect x="796" y="177.38" width="32.2" height="3.15" fill="#6ece58"/>
<rect x="796" y="174.82" width="32.2" height="3.15" fill="#70cf57"/>
<rect x="796" y="172.27" width="32.2" height="3.15" fill="#73d056"/>
<rect x="796" y="169.72" width="32.2" height="3.15" fill="#75d054"/>
<rect x="796" y="167.16" width="32.2" height="3.15" fill="#77d153"/>
<rect x="796" y="164.61" width="32.2" height="3.15" fill="#7ad151"/>
<rect x="796" y="162.06" width="32.2" height="3.15" fill="#7cd250"/>
<rect x="796" y="159.5" width="32.2" height="3.15" fill="#7fd34e"/>
<rect x="796" y="156.95" width="32.2" height="3.15" fill="#81d34d"/>
<rect x="796" y="154.4" width="32.2" height="3.15" fill="#84d44b"/>
<rect x="796" y="151.84" width="32.2" height="3.15" fill="#86d549"/>
<rect x="796" y="149.29" width="32.2" height="3.15" fill="#89d548"/>
<rect x="796" y="146.74" width="32.2" height="3.15" fill="#8bd646"/>
<rect x="796" y="144.18" width="32.2" height="3.15" fill="#8ed645"/>
<rect x="796" y="141.63" width="32.2" height="3.15" fill="#90d743"/>
<rect x="796" y="139.08" width="32.2" height="3.15" fill="#93d741"/>
<rect x="796" y="136.52" width="32.2" height="3.15" fill="#95d840"/>
<rect x="796" y="133.97" width="32.2" height="3.15" fill="#98d83e"/>
<rect x="796" y="131.42" width="32.2" height="3.15" fill="#9bd93c"/>
<rect x="796" y="128.87" width="32.2" height="3.15" fill="#9dd93b"/>
<rect x="796" y="126.31" width="32.2" height="3.15" fill="#a0da39"/>
<rect x="796" y="123.76" width="32.2" height="3.15" fill="#a2da37"/>
<rect x="796" y="121.21" width="32.2" height="3.15" fill="#a5db36"/>
<rect x="796" y="118.65" width="32.2" height="3.15" fill="#a8db34"/>
<rect x="796" y="116.1" width="32.2" height="3.15" fill="#aadc32"/>
<rect x="796" y="113.55" width="32.2" height="3.15" fill="#addc30"/>
<rect x="796" y="110.99" width="32.2" height="3.15" fill="#b0dd2f"/>
<rect x="796" y="108.44" width="32.2" height="3.15" fill="#b2dd2d"/>
<rect x="796" y="105.89" width="32.2" height="3.15" fill="#b5de2b"/>
<rect x="796" y="103.33" width="32.2" height="3.15" fill="#b8de29"/>
<rect x="796" y="100.78" width="32.2" height="3.15" fill="#bade28"/>
<rect x="796" y="98.23" width="32.2" height="3.15" fill="#bddf26"/>
<rect x="796" y="95.67" width="32.2" height="3.15" fill="#c0df25"/>
<rect x="796" y="93.12" width="32.2" height="3.15" fill="#c2df23"/>
<rect x="796" y="90.57" width="32.2" height="3.15" fill="#c5e021"/>
<rect x="796" y="88.02" width="32.2" height="3.15" fill="#c8e020"/>
<rect x="796" y="85.46" width="32.2" height="3.15" fill="#cae11f"/>
<rect x="796" y="82.91" width="32.2" height="3.15" fill="#cde11d"/>
<rect x="796" y="80.36" width="32.2" height="3.15" fill="#d0e11c"/>
<rect x="796" y="77.8" width="32.2" height="3.15" fill="#d2e21b"/>
<rect x="796" y="75.25" width="32.2" height="3.15" fill="#d5e21a"/>
<rect x="796" y="72.7" width="32.2" height="3.15" fill="#d8e219"/>
<rect x="796" y="70.14" width="32.2" height="3.15" fill="#dae319"/>
<rect x="796" y="67.59" width="32.2" height="3.15" fill="#dde318"/>
<rect x="796" y="65.04" width="32.2" height="3.15" fill="#dfe318"/>
<rect x="796" y="62.48" width="32.2" height="3.15" fill="#e2e418"/>
<rect x="796" y="59.93" width="32.2" height="3.15" fill="#e5e419"/>
<rect x="796" y="57.38" width="32.2" height="3.15" fill="#e7e419"/>
<rect x="796" y="54.82" width="32.2" height="3.15" fill="#eae51a"/>
<rect x="796" y="52.27" width="32.2" height="3.15" fill="#ece51b"/>
<rect x="796" y="49.72" width="32.2" height="3.15" fill="#efe51c"/>
<rect x="796" y="47.17" width="32.2" height="3.15" fill="#f1e51d"/>
<rect x="796" y="44.61" width="32.2" height="3.15" fill="#f4e61e"/>
<rect x="796" y="42.06" width="32.2" height="3.15" fill="#f6e620"/>
<rect x="796" y="39.51" width="32.2" height="3.15" fill="#f8e621"/>
<rect x="796" y="36.95" width="32.2" height="3.15" fill="#fbe723"/>
<rect x="796" y="34.4" width="32.2" height="3.15" fill="#fde725"/>
</g>
<rect class="ln" x="796" y="34.4" width="32.2" height="653.6"/>
<line class="ln" x1="828.2" y1="68" x2="837.73" y2="68"/>
<text class="tk" x="844.6" y="77.2" textLength="54.2" lengthAdjust="spacingAndGlyphs">0.780</text>
<line class="ln" x1="828.2" y1="153.4" x2="837.73" y2="153.4"/>
<text class="tk" x="844.6" y="162.6" textLength="54.2" lengthAdjust="spacingAndGlyphs">0.775</text>
<line class="ln" x1="828.2" y1="238.5" x2="837.73" y2="238.5"/>
<text class="tk" x="844.6" y="247.7" textLength="54.2" lengthAdjust="spacingAndGlyphs">0.770</text>
<line class="ln" x1="828.2" y1="323.5" x2="837.73" y2="323.5"/>
<text class="tk" x="844.6" y="332.7" textLength="54.2" lengthAdjust="spacingAndGlyphs">0.765</text>
<line class="ln" x1="828.2" y1="408.3" x2="837.73" y2="408.3"/>
<text class="tk" x="844.6" y="417.5" textLength="54.2" lengthAdjust="spacingAndGlyphs">0.760</text>
<line class="ln" x1="828.2" y1="493.7" x2="837.73" y2="493.7"/>
<text class="tk" x="844.6" y="502.9" textLength="54.2" lengthAdjust="spacingAndGlyphs">0.755</text>
<line class="ln" x1="828.2" y1="578.7" x2="837.73" y2="578.7"/>
<text class="tk" x="844.6" y="587.9" textLength="54.2" lengthAdjust="spacingAndGlyphs">0.750</text>
<line class="ln" x1="828.2" y1="663.5" x2="837.73" y2="663.5"/>
<text class="tk" x="844.6" y="672.7" textLength="54.2" lengthAdjust="spacingAndGlyphs">0.745</text>
<g class="cap"><text class="p" transform="translate(426.69,888.56) scale(0.9586,1.0741)">(</text><text class="b" transform="translate(449.72,888.82) scale(1.0889,1.0774)">b</text><text class="p" transform="translate(496.00,888.56) scale(0.9241,1.0741)">)</text></g>
</g>
<g id="panel-c" transform="translate(0,1082)">
<g shape-rendering="crispEdges">
<rect x="96" y="34.4" width="81.3" height="79.2" fill="#481467"/>
<rect x="176.8" y="34.4" width="81.6" height="79.2" fill="#2e6f8e"/>
<rect x="257.9" y="34.4" width="84" height="79.2" fill="#2cb17e"/>
<rect x="341.4" y="34.4" width="82.1" height="79.2" fill="#a5db36"/>
<rect x="423" y="34.4" width="82.3" height="79.2" fill="#f1e51d"/>
<rect x="504.8" y="34.4" width="81.5" height="79.2" fill="#e5e419"/>
<rect x="585.8" y="34.4" width="84.1" height="79.2" fill="#aadc32"/>
<rect x="669.4" y="34.4" width="83.1" height="79.2" fill="#3fbc73"/>
<rect x="96" y="113.1" width="81.3" height="83.7" fill="#481467"/>
<rect x="176.8" y="113.1" width="81.6" height="83.7" fill="#2e6f8e"/>
<rect x="257.9" y="113.1" width="84" height="83.7" fill="#2cb17e"/>
<rect x="341.4" y="113.1" width="82.1" height="83.7" fill="#a5db36"/>
<rect x="423" y="113.1" width="82.3" height="83.7" fill="#efe51c"/>
<rect x="504.8" y="113.1" width="81.5" height="83.7" fill="#e7e419"/>
<rect x="585.8" y="113.1" width="84.1" height="83.7" fill="#bddf26"/>
<rect x="669.4" y="113.1" width="83.1" height="83.7" fill="#5ac864"/>
<rect x="96" y="196.3" width="81.3" height="81.8" fill="#481467"/>
<rect x="176.8" y="196.3" width="81.6" height="81.8" fill="#2e6f8e"/>
<rect x="257.9" y="196.3" width="84" height="81.8" fill="#2cb17e"/>
<rect x="341.4" y="196.3" width="82.1" height="81.8" fill="#a0da39"/>
<rect x="423" y="196.3" width="82.3" height="81.8" fill="#efe51c"/>
<rect x="504.8" y="196.3" width="81.5" height="81.8" fill="#f6e620"/>
<rect x="585.8" y="196.3" width="84.1" height="81.8" fill="#d2e21b"/>
<rect x="669.4" y="196.3" width="83.1" height="81.8" fill="#7cd250"/>
<rect x="96" y="277.6" width="81.3" height="81.9" fill="#481467"/>
<rect x="176.8" y="277.6" width="81.6" height="81.9" fill="#2e6f8e"/>
<rect x="257.9" y="277.6" width="84" height="81.9" fill="#29af7f"/>
<rect x="341.4" y="277.6" width="82.1" height="81.9" fill="#9dd93b"/>
<rect x="423" y="277.6" width="82.3" height="81.9" fill="#eae51a"/>
<rect x="504.8" y="277.6" width="81.5" height="81.9" fill="#fde725"/>
<rect x="585.8" y="277.6" width="84.1" height="81.9" fill="#f4e61e"/>
<rect x="669.4" y="277.6" width="83.1" height="81.9" fill="#b2dd2d"/>
<rect x="96" y="359" width="81.3" height="82.4" fill="#481467"/>
<rect x="176.8" y="359" width="81.6" height="82.4" fill="#2e6e8e"/>
<rect x="257.9" y="359" width="84" height="82.4" fill="#25ac82"/>
<rect x="341.4" y="359" width="82.1" height="82.4" fill="#86d549"/>
<rect x="423" y="359" width="82.3" height="82.4" fill="#d8e219"/>
<rect x="504.8" y="359" width="81.5" height="82.4" fill="#f4e61e"/>
<rect x="585.8" y="359" width="84.1" height="82.4" fill="#f6e620"/>
<rect x="669.4" y="359" width="83.1" height="82.4" fill="#d8e219"/>
<rect x="96" y="440.9" width="81.3" height="83.9" fill="#471164"/>
<rect x="176.8" y="440.9" width="81.6" height="83.9" fill="#31688e"/>
<rect x="257.9" y="440.9" width="84" height="83.9" fill="#20a386"/>
<rect x="341.4" y="440.9" width="82.1" height="83.9" fill="#60ca60"/>
<rect x="423" y="440.9" width="82.3" height="83.9" fill="#a0da39"/>
<rect x="504.8" y="440.9" width="81.5" height="83.9" fill="#c2df23"/>
<rect x="585.8" y="440.9" width="84.1" height="83.9" fill="#d0e11c"/>
<rect x="669.4" y="440.9" width="83.1" height="83.9" fill="#c5e021"/>
<rect x="96" y="524.3" width="81.3" height="82.3" fill="#470e61"/>
<rect x="176.8" y="524.3" width="81.6" height="82.3" fill="#375a8c"/>
<rect x="257.9" y="524.3" width="84" height="82.3" fill="#24868e"/>
<rect x="341.4" y="524.3" width="82.1" height="82.3" fill="#20a486"/>
<rect x="423" y="524.3" width="82.3" height="82.3" fill="#32b67a"/>
<rect x="504.8" y="524.3" width="81.5" height="82.3" fill="#48c16e"/>
<rect x="585.8" y="524.3" width="84.1" height="82.3" fill="#50c46a"/>
<rect x="669.4" y="524.3" width="83.1" height="82.3" fill="#54c568"/>
<rect x="96" y="606.1" width="81.3" height="82.4" fill="#440154"/>
<rect x="176.8" y="606.1" width="81.6" height="82.4" fill="#482979"/>
<rect x="257.9" y="606.1" width="84" height="82.4" fill="#414487"/>
<rect x="341.4" y="606.1" width="82.1" height="82.4" fill="#3a548c"/>
<rect x="423" y="606.1" width="82.3" height="82.4" fill="#355f8d"/>
<rect x="504.8" y="606.1" width="81.5" height="82.4" fill="#33628d"/>
<rect x="585.8" y="606.1" width="84.1" height="82.4" fill="#32658e"/>
<rect x="669.4" y="606.1" width="83.1" height="82.4" fill="#31678e"/>
</g>
<rect class="ln" x="96" y="34.4" width="656" height="653.6"/>
<line class="ln" x1="136.8" y1="688" x2="136.8" y2="697.53"/>
<text class="tk" x="136.7" y="724.4" text-anchor="middle" textLength="11.4" lengthAdjust="spacingAndGlyphs">2</text>
<line class="ln" x1="219.8" y1="688" x2="219.8" y2="697.53"/>
<text class="tk" x="218.4" y="724.4" text-anchor="middle" textLength="11.4" lengthAdjust="spacingAndGlyphs">4</text>
<line class="ln" x1="301.5" y1="688" x2="301.5" y2="697.53"/>
<text class="tk" x="301.9" y="724.4" text-anchor="middle" textLength="11.4" lengthAdjust="spacingAndGlyphs">6</text>
<line class="ln" x1="382.8" y1="688" x2="382.8" y2="697.53"/>
<text class="tk" x="383.3" y="724.4" text-anchor="middle" textLength="11.4" lengthAdjust="spacingAndGlyphs">8</text>
<line class="ln" x1="464.7" y1="688" x2="464.7" y2="697.53"/>
<text class="tk" x="465.5" y="724.4" text-anchor="middle" textLength="22" lengthAdjust="spacingAndGlyphs">10</text>
<line class="ln" x1="545.9" y1="688" x2="545.9" y2="697.53"/>
<text class="tk" x="546.6" y="724.4" text-anchor="middle" textLength="22" lengthAdjust="spacingAndGlyphs">12</text>
<line class="ln" x1="629.1" y1="688" x2="629.1" y2="697.53"/>
<text class="tk" x="628.5" y="724.4" text-anchor="middle" textLength="22" lengthAdjust="spacingAndGlyphs">14</text>
<line class="ln" x1="710.8" y1="688" x2="710.8" y2="697.53"/>
<text class="tk" x="710.2" y="724.4" text-anchor="middle" textLength="22" lengthAdjust="spacingAndGlyphs">16</text>
<line class="ln" x1="86.47" y1="75.2" x2="96" y2="75.2"/>
<text class="tk" x="78.8" y="83" text-anchor="end" textLength="11.4" lengthAdjust="spacingAndGlyphs">8</text>
<line class="ln" x1="86.47" y1="156.95" x2="96" y2="156.95"/>
<text class="tk" x="78.8" y="164" text-anchor="end" textLength="11.4" lengthAdjust="spacingAndGlyphs">7</text>
<line class="ln" x1="86.47" y1="238.3" x2="96" y2="238.3"/>
<text class="tk" x="78.8" y="247.3" text-anchor="end" textLength="11.4" lengthAdjust="spacingAndGlyphs">6</text>
<line class="ln" x1="86.47" y1="319.8" x2="96" y2="319.8"/>
<text class="tk" x="78.8" y="329.4" text-anchor="end" textLength="11.4" lengthAdjust="spacingAndGlyphs">5</text>
<line class="ln" x1="86.47" y1="403.45" x2="96" y2="403.45"/>
<text class="tk" x="78.8" y="410.65" text-anchor="end" textLength="11.4" lengthAdjust="spacingAndGlyphs">4</text>
<line class="ln" x1="86.47" y1="485.2" x2="96" y2="485.2"/>
<text class="tk" x="78.8" y="492.2" text-anchor="end" textLength="11.4" lengthAdjust="spacingAndGlyphs">3</text>
<line class="ln" x1="86.47" y1="566" x2="96" y2="566"/>
<text class="tk" x="78.8" y="574.2" text-anchor="end" textLength="11.4" lengthAdjust="spacingAndGlyphs">2</text>
<line class="ln" x1="86.47" y1="647.85" x2="96" y2="647.85"/>
<text class="tk" x="78.8" y="656.5" text-anchor="end" textLength="11.4" lengthAdjust="spacingAndGlyphs">1</text>
<text class="lab" transform="translate(423.2,767.2) skewX(-5) scale(1.05,1)" text-anchor="middle">T</text>
<text class="lab" transform="translate(43.6,362) rotate(-90) skewX(-5) scale(1.04,1)" text-anchor="middle">N</text>
<g class="cb" shape-rendering="crispEdges">
<rect x="796" y="685.45" width="32.2" height="3.15" fill="#440154"/>
<rect x="796" y="682.89" width="32.2" height="3.15" fill="#440256"/>
<rect x="796" y="680.34" width="32.2" height="3.15" fill="#450457"/>
<rect x="796" y="677.79" width="32.2" height="3.15" fill="#450559"/>
<rect x="796" y="675.23" width="32.2" height="3.15" fill="#46075a"/>
<rect x="796" y="672.68" width="32.2" height="3.15" fill="#46085c"/>
<rect x="796" y="670.13" width="32.2" height="3.15" fill="#460a5d"/>
<rect x="796" y="667.58" width="32.2" height="3.15" fill="#460b5e"/>
<rect x="796" y="665.02" width="32.2" height="3.15" fill="#470d60"/>
<rect x="796" y="662.47" width="32.2" height="3.15" fill="#470e61"/>
<rect x="796" y="659.92" width="32.2" height="3.15" fill="#471063"/>
<rect x="796" y="657.36" width="32.2" height="3.15" fill="#471164"/>
<rect x="796" y="654.81" width="32.2" height="3.15" fill="#471365"/>
<rect x="796" y="652.26" width="32.2" height="3.15" fill="#481467"/>
<rect x="796" y="649.7" width="32.2" height="3.15" fill="#481668"/>
<rect x="796" y="647.15" width="32.2" height="3.15" fill="#481769"/>
<rect x="796" y="644.6" width="32.2" height="3.15" fill="#48186a"/>
<rect x="796" y="642.04" width="32.2" height="3.15" fill="#481a6c"/>
<rect x="796" y="639.49" width="32.2" height="3.15" fill="#481b6d"/>
<rect x="796" y="636.94" width="32.2" height="3.15" fill="#481c6e"/>
<rect x="796" y="634.38" width="32.2" height="3.15" fill="#481d6f"/>
<rect x="796" y="631.83" width="32.2" height="3.15" fill="#481f70"/>
<rect x="796" y="629.28" width="32.2" height="3.15" fill="#482071"/>
<rect x="796" y="626.73" width="32.2" height="3.15" fill="#482173"/>
<rect x="796" y="624.17" width="32.2" height="3.15" fill="#482374"/>
<rect x="796" y="621.62" width="32.2" height="3.15" fill="#482475"/>
<rect x="796" y="619.07" width="32.2" height="3.15" fill="#482576"/>
<rect x="796" y="616.51" width="32.2" height="3.15" fill="#482677"/>
<rect x="796" y="613.96" width="32.2" height="3.15" fill="#482878"/>
<rect x="796" y="611.41" width="32.2" height="3.15" fill="#482979"/>
<rect x="796" y="608.85" width="32.2" height="3.15" fill="#472a7a"/>
<rect x="796" y="606.3" width="32.2" height="3.15" fill="#472c7a"/>
<rect x="796" y="603.75" width="32.2" height="3.15" fill="#472d7b"/>
<rect x="796" y="601.19" width="32.2" height="3.15" fill="#472e7c"/>
<rect x="796" y="598.64" width="32.2" height="3.15" fill="#472f7d"/>
<rect x="796" y="596.09" width="32.2" height="3.15" fill="#46307e"/>
<rect x="796" y="593.53" width="32.2" height="3.15" fill="#46327e"/>
<rect x="796" y="590.98" width="32.2" height="3.15" fill="#46337f"/>
<rect x="796" y="588.43" width="32.2" height="3.15" fill="#463480"/>
<rect x="796" y="585.88" width="32.2" height="3.15" fill="#453581"/>
<rect x="796" y="583.32" width="32.2" height="3.15" fill="#453781"/>
<rect x="796" y="580.77" width="32.2" height="3.15" fill="#453882"/>
<rect x="796" y="578.22" width="32.2" height="3.15" fill="#443983"/>
<rect x="796" y="575.66" width="32.2" height="3.15" fill="#443a83"/>
<rect x="796" y="573.11" width="32.2" height="3.15" fill="#443b84"/>
<rect x="796" y="570.56" width="32.2" height="3.15" fill="#433d84"/>
<rect x="796" y="568" width="32.2" height="3.15" fill="#433e85"/>
<rect x="796" y="565.45" width="32.2" height="3.15" fill="#423f85"/>
<rect x="796" y="562.9" width="32.2" height="3.15" fill="#424086"/>
<rect x="796" y="560.34" width="32.2" height="3.15" fill="#424186"/>
<rect x="796" y="557.79" width="32.2" height="3.15" fill="#414287"/>
<rect x="796" y="555.24" width="32.2" height="3.15" fill="#414487"/>
<rect x="796" y="552.68" width="32.2" height="3.15" fill="#404588"/>
<rect x="796" y="550.13" width="32.2" height="3.15" fill="#404688"/>
<rect x="796" y="547.58" width="32.2" height="3.15" fill="#3f4788"/>
<rect x="796" y="545.02" width="32.2" height="3.15" fill="#3f4889"/>
<rect x="796" y="542.47" width="32.2" height="3.15" fill="#3e4989"/>
<rect x="796" y="539.92" width="32.2" height="3.15" fill="#3e4a89"/>
<rect x="796" y="537.37" width="32.2" height="3.15" fill="#3e4c8a"/>
<rect x="796" y="534.81" width="32.2" height="3.15" fill="#3d4d8a"/>
<rect x="796" y="532.26" width="32.2" height="3.15" fill="#3d4e8a"/>
<rect x="796" y="529.71" width="32.2" height="3.15" fill="#3c4f8a"/>
<rect x="796" y="527.15" width="32.2" height="3.15" fill="#3c508b"/>
<rect x="796" y="524.6" width="32.2" height="3.15" fill="#3b518b"/>
<rect x="796" y="522.05" width="32.2" height="3.15" fill="#3b528b"/>
<rect x="796" y="519.49" width="32.2" height="3.15" fill="#3a538b"/>
<rect x="796" y="516.94" width="32.2" height="3.15" fill="#3a548c"/>
<rect x="796" y="514.39" width="32.2" height="3.15" fill="#39558c"/>
<rect x="796" y="511.83" width="32.2" height="3.15" fill="#39568c"/>
<rect x="796" y="509.28" width="32.2" height="3.15" fill="#38588c"/>
<rect x="796" y="506.73" width="32.2" height="3.15" fill="#38598c"/>
<rect x="796" y="504.17" width="32.2" height="3.15" fill="#375a8c"/>
<rect x="796" y="501.62" width="32.2" height="3.15" fill="#375b8d"/>
<rect x="796" y="499.07" width="32.2" height="3.15" fill="#365c8d"/>
<rect x="796" y="496.52" width="32.2" height="3.15" fill="#365d8d"/>
<rect x="796" y="493.96" width="32.2" height="3.15" fill="#355e8d"/>
<rect x="796" y="491.41" width="32.2" height="3.15" fill="#355f8d"/>
<rect x="796" y="488.86" width="32.2" height="3.15" fill="#34608d"/>
<rect x="796" y="486.3" width="32.2" height="3.15" fill="#34618d"/>
<rect x="796" y="483.75" width="32.2" height="3.15" fill="#33628d"/>
<rect x="796" y="481.2" width="32.2" height="3.15" fill="#33638d"/>
<rect x="796" y="478.64" width="32.2" height="3.15" fill="#32648e"/>
<rect x="796" y="476.09" width="32.2" height="3.15" fill="#32658e"/>
<rect x="796" y="473.54" width="32.2" height="3.15" fill="#31668e"/>
<rect x="796" y="470.98" width="32.2" height="3.15" fill="#31678e"/>
<rect x="796" y="468.43" width="32.2" height="3.15" fill="#31688e"/>
<rect x="796" y="465.88" width="32.2" height="3.15" fill="#30698e"/>
<rect x="796" y="463.32" width="32.2" height="3.15" fill="#306a8e"/>
<rect x="796" y="460.77" width="32.2" height="3.15" fill="#2f6b8e"/>
<rect x="796" y="458.22" width="32.2" height="3.15" fill="#2f6c8e"/>
<rect x="796" y="455.67" width="32.2" height="3.15" fill="#2e6d8e"/>
<rect x="796" y="453.11" width="32.2" height="3.15" fill="#2e6e8e"/>
<rect x="796" y="450.56" width="32.2" height="3.15" fill="#2e6f8e"/>
<rect x="796" y="448.01" width="32.2" height="3.15" fill="#2d708e"/>
<rect x="796" y="445.45" width="32.2" height="3.15" fill="#2d718e"/>
<rect x="796" y="442.9" width="32.2" height="3.15" fill="#2c718e"/>
<rect x="796" y="440.35" width="32.2" height="3.15" fill="#2c728e"/>
<rect x="796" y="437.79" width="32.2" height="3.15" fill="#2c738e"/>
<rect x="796" y="435.24" width="32.2" height="3.15" fill="#2b748e"/>
<rect x="796" y="432.69" width="32.2" height="3.15" fill="#2b758e"/>
<rect x="796" y="430.13" width="32.2" height="3.15" fill="#2a768e"/>
<rect x="796" y="427.58" width="32.2" height="3.15" fill="#2a778e"/>
<rect x="796" y="425.03" width="32.2" height="3.15" fill="#2a788e"/>
<rect x="796" y="422.47" width="32.2" height="3.15" fill="#29798e"/>
<rect x="796" y="419.92" width="32.2" height="3.15" fill="#297a8e"/>
<rect x="796" y="417.37" width="32.2" height="3.15" fill="#297b8e"/>
<rect x="796" y="414.82" width="32.2" height="3.15" fill="#287c8e"/>
<rect x="796" y="412.26" width="32.2" height="3.15" fill="#287d8e"/>
<rect x="796" y="409.71" width="32.2" height="3.15" fill="#277e8e"/>
<rect x="796" y="407.16" width="32.2" height="3.15" fill="#277f8e"/>
<rect x="796" y="404.6" width="32.2" height="3.15" fill="#27808e"/>
<rect x="796" y="402.05" width="32.2" height="3.15" fill="#26818e"/>
<rect x="796" y="399.5" width="32.2" height="3.15" fill="#26828e"/>
<rect x="796" y="396.94" width="32.2" height="3.15" fill="#26828e"/>
<rect x="796" y="394.39" width="32.2" height="3.15" fill="#25838e"/>
<rect x="796" y="391.84" width="32.2" height="3.15" fill="#25848e"/>
<rect x="796" y="389.28" width="32.2" height="3.15" fill="#25858e"/>
<rect x="796" y="386.73" width="32.2" height="3.15" fill="#24868e"/>
<rect x="796" y="384.18" width="32.2" height="3.15" fill="#24878e"/>
<rect x="796" y="381.62" width="32.2" height="3.15" fill="#23888e"/>
<rect x="796" y="379.07" width="32.2" height="3.15" fill="#23898e"/>
<rect x="796" y="376.52" width="32.2" height="3.15" fill="#238a8d"/>
<rect x="796" y="373.97" width="32.2" height="3.15" fill="#228b8d"/>
<rect x="796" y="371.41" width="32.2" height="3.15" fill="#228c8d"/>
<rect x="796" y="368.86" width="32.2" height="3.15" fill="#228d8d"/>
<rect x="796" y="366.31" width="32.2" height="3.15" fill="#218e8d"/>
<rect x="796" y="363.75" width="32.2" height="3.15" fill="#218f8d"/>
<rect x="796" y="361.2" width="32.2" height="3.15" fill="#21908d"/>
<rect x="796" y="358.65" width="32.2" height="3.15" fill="#21918c"/>
<rect x="796" y="356.09" width="32.2" height="3.15" fill="#20928c"/>
<rect x="796" y="353.54" width="32.2" height="3.15" fill="#20928c"/>
<rect x="796" y="350.99" width="32.2" height="3.15" fill="#20938c"/>
<rect x="796" y="348.43" width="32.2" height="3.15" fill="#1f948c"/>
<rect x="796" y="345.88" width="32.2" height="3.15" fill="#1f958b"/>
<rect x="796" y="343.33" width="32.2" height="3.15" fill="#1f968b"/>
<rect x="796" y="340.77" width="32.2" height="3.15" fill="#1f978b"/>
<rect x="796" y="338.22" width="32.2" height="3.15" fill="#1f988b"/>
<rect x="796" y="335.67" width="32.2" height="3.15" fill="#1f998a"/>
<rect x="796" y="333.12" width="32.2" height="3.15" fill="#1f9a8a"/>
<rect x="796" y="330.56" width="32.2" height="3.15" fill="#1e9b8a"/>
<rect x="796" y="328.01" width="32.2" height="3.15" fill="#1e9c89"/>
<rect x="796" y="325.46" width="32.2" height="3.15" fill="#1e9d89"/>
<rect x="796" y="322.9" width="32.2" height="3.15" fill="#1f9e89"/>
<rect x="796" y="320.35" width="32.2" height="3.15" fill="#1f9f88"/>
<rect x="796" y="317.8" width="32.2" height="3.15" fill="#1fa088"/>
<rect x="796" y="315.24" width="32.2" height="3.15" fill="#1fa188"/>
<rect x="796" y="312.69" width="32.2" height="3.15" fill="#1fa187"/>
<rect x="796" y="310.14" width="32.2" height="3.15" fill="#1fa287"/>
<rect x="796" y="307.58" width="32.2" height="3.15" fill="#20a386"/>
<rect x="796" y="305.03" width="32.2" height="3.15" fill="#20a486"/>
<rect x="796" y="302.48" width="32.2" height="3.15" fill="#21a585"/>
<rect x="796" y="299.93" width="32.2" height="3.15" fill="#21a685"/>
<rect x="796" y="297.37" width="32.2" height="3.15" fill="#22a785"/>
<rect x="796" y="294.82" width="32.2" height="3.15" fill="#22a884"/>
<rect x="796" y="292.27" width="32.2" height="3.15" fill="#23a983"/>
<rect x="796" y="289.71" width="32.2" height="3.15" fill="#24aa83"/>
<rect x="796" y="287.16" width="32.2" height="3.15" fill="#25ab82"/>
<rect x="796" y="284.61" width="32.2" height="3.15" fill="#25ac82"/>
<rect x="796" y="282.05" width="32.2" height="3.15" fill="#26ad81"/>
<rect x="796" y="279.5" width="32.2" height="3.15" fill="#27ad81"/>
<rect x="796" y="276.95" width="32.2" height="3.15" fill="#28ae80"/>
<rect x="796" y="274.39" width="32.2" height="3.15" fill="#29af7f"/>
<rect x="796" y="271.84" width="32.2" height="3.15" fill="#2ab07f"/>
<rect x="796" y="269.29" width="32.2" height="3.15" fill="#2cb17e"/>
<rect x="796" y="266.73" width="32.2" height="3.15" fill="#2db27d"/>
<rect x="796" y="264.18" width="32.2" height="3.15" fill="#2eb37c"/>
<rect x="796" y="261.63" width="32.2" height="3.15" fill="#2fb47c"/>
<rect x="796" y="259.07" width="32.2" height="3.15" fill="#31b57b"/>
<rect x="796" y="256.52" width="32.2" height="3.15" fill="#32b67a"/>
<rect x="796" y="253.97" width="32.2" height="3.15" fill="#34b679"/>
<rect x="796" y="251.42" width="32.2" height="3.15" fill="#35b779"/>
<rect x="796" y="248.86" width="32.2" height="3.15" fill="#37b878"/>
<rect x="796" y="246.31" width="32.2" height="3.15" fill="#38b977"/>
<rect x="796" y="243.76" width="32.2" height="3.15" fill="#3aba76"/>
<rect x="796" y="241.2" width="32.2" height="3.15" fill="#3bbb75"/>
<rect x="796" y="238.65" width="32.2" height="3.15" fill="#3dbc74"/>
<rect x="796" y="236.1" width="32.2" height="3.15" fill="#3fbc73"/>
<rect x="796" y="233.54" width="32.2" height="3.15" fill="#40bd72"/>
<rect x="796" y="230.99" width="32.2" height="3.15" fill="#42be71"/>
<rect x="796" y="228.44" width="32.2" height="3.15" fill="#44bf70"/>
<rect x="796" y="225.88" width="32.2" height="3.15" fill="#46c06f"/>
<rect x="796" y="223.33" width="32.2" height="3.15" fill="#48c16e"/>
<rect x="796" y="220.78" width="32.2" height="3.15" fill="#4ac16d"/>
<rect x="796" y="218.22" width="32.2" height="3.15" fill="#4cc26c"/>
<rect x="796" y="215.67" width="32.2" height="3.15" fill="#4ec36b"/>
<rect x="796" y="213.12" width="32.2" height="3.15" fill="#50c46a"/>
<rect x="796" y="210.57" width="32.2" height="3.15" fill="#52c569"/>
<rect x="796" y="208.01" width="32.2" height="3.15" fill="#54c568"/>
<rect x="796" y="205.46" width="32.2" height="3.15" fill="#56c667"/>
<rect x="796" y="202.91" width="32.2" height="3.15" fill="#58c765"/>
<rect x="796" y="200.35" width="32.2" height="3.15" fill="#5ac864"/>
<rect x="796" y="197.8" width="32.2" height="3.15" fill="#5cc863"/>
<rect x="796" y="195.25" width="32.2" height="3.15" fill="#5ec962"/>
<rect x="796" y="192.69" width="32.2" height="3.15" fill="#60ca60"/>
<rect x="796" y="190.14" width="32.2" height="3.15" fill="#63cb5f"/>
<rect x="796" y="187.59" width="32.2" height="3.15" fill="#65cb5e"/>
<rect x="796" y="185.03" width="32.2" height="3.15" fill="#67cc5c"/>
<rect x="796" y="182.48" width="32.2" height="3.15" fill="#69cd5b"/>
<rect x="796" y="179.93" width="32.2" height="3.15" fill="#6ccd5a"/>
<rect x="796" y="177.38" width="32.2" height="3.15" fill="#6ece58"/>
<rect x="796" y="174.82" width="32.2" height="3.15" fill="#70cf57"/>
<rect x="796" y="172.27" width="32.2" height="3.15" fill="#73d056"/>
<rect x="796" y="169.72" width="32.2" height="3.15" fill="#75d054"/>
<rect x="796" y="167.16" width="32.2" height="3.15" fill="#77d153"/>
<rect x="796" y="164.61" width="32.2" height="3.15" fill="#7ad151"/>
<rect x="796" y="162.06" width="32.2" height="3.15" fill="#7cd250"/>
<rect x="796" y="159.5" width="32.2" height="3.15" fill="#7fd34e"/>
<rect x="796" y="156.95" width="32.2" height="3.15" fill="#81d34d"/>
<rect x="796" y="154.4" width="32.2" height="3.15" fill="#84d44b"/>
<rect x="796" y="151.84" width="32.2" height="3.15" fill="#86d549"/>
<rect x="796" y="149.29" width="32.2" height="3.15" fill="#89d548"/>
<rect x="796" y="146.74" width="32.2" height="3.15" fill="#8bd646"/>
<rect x="796" y="144.18" width="32.2" height="3.15" fill="#8ed645"/>
<rect x="796" y="141.63" width="32.2" height="3.15" fill="#90d743"/>
<rect x="796" y="139.08" width="32.2" height="3.15" fill="#93d741"/>
<rect x="796" y="136.52" width="32.2" height="3.15" fill="#95d840"/>
<rect x="796" y="133.97" width="32.2" height="3.15" fill="#98d83e"/>
<rect x="796" y="131.42" width="32.2" height="3.15" fill="#9bd93c"/>
<rect x="796" y="128.87" width="32.2" height="3.15" fill="#9dd93b"/>
<rect x="796" y="126.31" width="32.2" height="3.15" fill="#a0da39"/>
<rect x="796" y="123.76" width="32.2" height="3.15" fill="#a2da37"/>
<rect x="796" y="121.21" width="32.2" height="3.15" fill="#a5db36"/>
<rect x="796" y="118.65" width="32.2" height="3.15" fill="#a8db34"/>
<rect x="796" y="116.1" width="32.2" height="3.15" fill="#aadc32"/>
<rect x="796" y="113.55" width="32.2" height="3.15" fill="#addc30"/>
<rect x="796" y="110.99" width="32.2" height="3.15" fill="#b0dd2f"/>
<rect x="796" y="108.44" width="32.2" height="3.15" fill="#b2dd2d"/>
<rect x="796" y="105.89" width="32.2" height="3.15" fill="#b5de2b"/>
<rect x="796" y="103.33" width="32.2" height="3.15" fill="#b8de29"/>
<rect x="796" y="100.78" width="32.2" height="3.15" fill="#bade28"/>
<rect x="796" y="98.23" width="32.2" height="3.15" fill="#bddf26"/>
<rect x="796" y="95.67" width="32.2" height="3.15" fill="#c0df25"/>
<rect x="796" y="93.12" width="32.2" height="3.15" fill="#c2df23"/>
<rect x="796" y="90.57" width="32.2" height="3.15" fill="#c5e021"/>
<rect x="796" y="88.02" width="32.2" height="3.15" fill="#c8e020"/>
<rect x="796" y="85.46" width="32.2" height="3.15" fill="#cae11f"/>
<rect x="796" y="82.91" width="32.2" height="3.15" fill="#cde11d"/>
<rect x="796" y="80.36" width="32.2" height="3.15" fill="#d0e11c"/>
<rect x="796" y="77.8" width="32.2" height="3.15" fill="#d2e21b"/>
<rect x="796" y="75.25" width="32.2" height="3.15" fill="#d5e21a"/>
<rect x="796" y="72.7" width="32.2" height="3.15" fill="#d8e219"/>
<rect x="796" y="70.14" width="32.2" height="3.15" fill="#dae319"/>
<rect x="796" y="67.59" width="32.2" height="3.15" fill="#dde318"/>
<rect x="796" y="65.04" width="32.2" height="3.15" fill="#dfe318"/>
<rect x="796" y="62.48" width="32.2" height="3.15" fill="#e2e418"/>
<rect x="796" y="59.93" width="32.2" height="3.15" fill="#e5e419"/>
<rect x="796" y="57.38" width="32.2" height="3.15" fill="#e7e419"/>
<rect x="796" y="54.82" width="32.2" height="3.15" fill="#eae51a"/>
<rect x="796" y="52.27" width="32.2" height="3.15" fill="#ece51b"/>
<rect x="796" y="49.72" width="32.2" height="3.15" fill="#efe51c"/>
<rect x="796" y="47.17" width="32.2" height="3.15" fill="#f1e51d"/>
<rect x="796" y="44.61" width="32.2" height="3.15" fill="#f4e61e"/>
<rect x="796" y="42.06" width="32.2" height="3.15" fill="#f6e620"/>
<rect x="796" y="39.51" width="32.2" height="3.15" fill="#f8e621"/>
<rect x="796" y="36.95" width="32.2" height="3.15" fill="#fbe723"/>
<rect x="796" y="34.4" width="32.2" height="3.15" fill="#fde725"/>
</g>
<rect class="ln" x="796" y="34.4" width="32.2" height="653.6"/>
<line class="ln" x1="828.2" y1="121" x2="837.73" y2="121"/>
<text class="tk" x="844.6" y="129.4" textLength="54.2" lengthAdjust="spacingAndGlyphs">0.640</text>
<line class="ln" x1="828.2" y1="227.8" x2="837.73" y2="227.8"/>
<text class="tk" x="844.6" y="236.2" textLength="54.2" lengthAdjust="spacingAndGlyphs">0.635</text>
<line class="ln" x1="828.2" y1="334" x2="837.73" y2="334"/>
<text class="tk" x="844.6" y="342.4" textLength="54.2" lengthAdjust="spacingAndGlyphs">0.630</text>
<line class="ln" x1="828.2" y1="440.5" x2="837.73" y2="440.5"/>
<text class="tk" x="844.6" y="448.9" textLength="54.2" lengthAdjust="spacingAndGlyphs">0.625</text>
<line class="ln" x1="828.2" y1="548.2" x2="837.73" y2="548.2"/>
<text class="tk" x="844.6" y="556.6" textLength="54.2" lengthAdjust="spacingAndGlyphs">0.620</text>
<line class="ln" x1="828.2" y1="654.5" x2="837.73" y2="654.5"/>
<text class="tk" x="844.6" y="662.9" textLength="54.2" lengthAdjust="spacingAndGlyphs">0.615</text>
<g class="cap"><text class="p" transform="translate(433.23,888.56) scale(0.9477,1.0741)">(</text><text class="b" transform="translate(456.70,888.67) scale(0.9921,1.0156)">c</text><text class="p" transform="translate(489.40,888.56) scale(0.9241,1.0741)">)</text></g>
</g>
<g id="panel-d" transform="translate(1196.4,1082)">
<g shape-rendering="crispEdges">
<rect x="96" y="34.4" width="81.3" height="79.2" fill="#471164"/>
<rect x="176.8" y="34.4" width="81.6" height="79.2" fill="#31688e"/>
<rect x="257.9" y="34.4" width="84" height="79.2" fill="#2cb17e"/>
<rect x="341.4" y="34.4" width="82.1" height="79.2" fill="#a8db34"/>
<rect x="423" y="34.4" width="82.3" height="79.2" fill="#f1e51d"/>
<rect x="504.8" y="34.4" width="81.5" height="79.2" fill="#dae319"/>
<rect x="585.8" y="34.4" width="84.1" height="79.2" fill="#70cf57"/>
<rect x="669.4" y="34.4" width="83.1" height="79.2" fill="#21918c"/>
<rect x="96" y="113.1" width="81.3" height="83.7" fill="#471164"/>
<rect x="176.8" y="113.1" width="81.6" height="83.7" fill="#31688e"/>
<rect x="257.9" y="113.1" width="84" height="83.7" fill="#2cb17e"/>
<rect x="341.4" y="113.1" width="82.1" height="83.7" fill="#a5db36"/>
<rect x="423" y="113.1" width="82.3" height="83.7" fill="#eae51a"/>
<rect x="504.8" y="113.1" width="81.5" height="83.7" fill="#dde318"/>
<rect x="585.8" y="113.1" width="84.1" height="83.7" fill="#86d549"/>
<rect x="669.4" y="113.1" width="83.1" height="83.7" fill="#25ab82"/>
<rect x="96" y="196.3" width="81.3" height="81.8" fill="#471164"/>
<rect x="176.8" y="196.3" width="81.6" height="81.8" fill="#31688e"/>
<rect x="257.9" y="196.3" width="84" height="81.8" fill="#2ab07f"/>
<rect x="341.4" y="196.3" width="82.1" height="81.8" fill="#a0da39"/>
<rect x="423" y="196.3" width="82.3" height="81.8" fill="#efe51c"/>
<rect x="504.8" y="196.3" width="81.5" height="81.8" fill="#efe51c"/>
<rect x="585.8" y="196.3" width="84.1" height="81.8" fill="#addc30"/>
<rect x="669.4" y="196.3" width="83.1" height="81.8" fill="#48c16e"/>
<rect x="96" y="277.6" width="81.3" height="81.9" fill="#471164"/>
<rect x="176.8" y="277.6" width="81.6" height="81.9" fill="#31688e"/>
<rect x="257.9" y="277.6" width="84" height="81.9" fill="#29af7f"/>
<rect x="341.4" y="277.6" width="82.1" height="81.9" fill="#9bd93c"/>
<rect x="423" y="277.6" width="82.3" height="81.9" fill="#eae51a"/>
<rect x="504.8" y="277.6" width="81.5" height="81.9" fill="#fde725"/>
<rect x="585.8" y="277.6" width="84.1" height="81.9" fill="#d8e219"/>
<rect x="669.4" y="277.6" width="83.1" height="81.9" fill="#86d549"/>
<rect x="96" y="359" width="81.3" height="82.4" fill="#471164"/>
<rect x="176.8" y="359" width="81.6" height="82.4" fill="#31678e"/>
<rect x="257.9" y="359" width="84" height="82.4" fill="#25ab82"/>
<rect x="341.4" y="359" width="82.1" height="82.4" fill="#86d549"/>
<rect x="423" y="359" width="82.3" height="82.4" fill="#d8e219"/>
<rect x="504.8" y="359" width="81.5" height="82.4" fill="#fbe723"/>
<rect x="585.8" y="359" width="84.1" height="82.4" fill="#f6e620"/>
<rect x="669.4" y="359" width="83.1" height="82.4" fill="#cae11f"/>
<rect x="96" y="440.9" width="81.3" height="83.9" fill="#471063"/>
<rect x="176.8" y="440.9" width="81.6" height="83.9" fill="#33638d"/>
<rect x="257.9" y="440.9" width="84" height="83.9" fill="#1f9e89"/>
<rect x="341.4" y="440.9" width="82.1" height="83.9" fill="#58c765"/>
<rect x="423" y="440.9" width="82.3" height="83.9" fill="#93d741"/>
<rect x="504.8" y="440.9" width="81.5" height="83.9" fill="#c2df23"/>
<rect x="585.8" y="440.9" width="84.1" height="83.9" fill="#cde11d"/>
<rect x="669.4" y="440.9" width="83.1" height="83.9" fill="#c5e021"/>
<rect x="96" y="524.3" width="81.3" height="82.3" fill="#470e61"/>
<rect x="176.8" y="524.3" width="81.6" height="82.3" fill="#3b528b"/>
<rect x="257.9" y="524.3" width="84" height="82.3" fill="#287d8e"/>
<rect x="341.4" y="524.3" width="82.1" height="82.3" fill="#1f9a8a"/>
<rect x="423" y="524.3" width="82.3" height="82.3" fill="#26ad81"/>
<rect x="504.8" y="524.3" width="81.5" height="82.3" fill="#38b977"/>
<rect x="585.8" y="524.3" width="84.1" height="82.3" fill="#42be71"/>
<rect x="669.4" y="524.3" width="83.1" height="82.3" fill="#48c16e"/>
<rect x="96" y="606.1" width="81.3" height="82.4" fill="#440154"/>
<rect x="176.8" y="606.1" width="81.6" height="82.4" fill="#482576"/>
<rect x="257.9" y="606.1" width="84" height="82.4" fill="#433d84"/>
<rect x="341.4" y="606.1" width="82.1" height="82.4" fill="#3e4a89"/>
<rect x="423" y="606.1" width="82.3" height="82.4" fill="#3a538b"/>
<rect x="504.8" y="606.1" width="81.5" height="82.4" fill="#38588c"/>
<rect x="585.8" y="606.1" width="84.1" height="82.4" fill="#375a8c"/>
<rect x="669.4" y="606.1" width="83.1" height="82.4" fill="#365d8d"/>
</g>
<rect class="ln" x="96" y="34.4" width="656" height="653.6"/>
<line class="ln" x1="136.8" y1="688" x2="136.8" y2="697.53"/>
<text class="tk" x="136.7" y="724.4" text-anchor="middle" textLength="11.4" lengthAdjust="spacingAndGlyphs">2</text>
<line class="ln" x1="219.8" y1="688" x2="219.8" y2="697.53"/>
<text class="tk" x="218.4" y="724.4" text-anchor="middle" textLength="11.4" lengthAdjust="spacingAndGlyphs">4</text>
<line class="ln" x1="301.5" y1="688" x2="301.5" y2="697.53"/>
<text class="tk" x="301.9" y="724.4" text-anchor="middle" textLength="11.4" lengthAdjust="spacingAndGlyphs">6</text>
<line class="ln" x1="382.8" y1="688" x2="382.8" y2="697.53"/>
<text class="tk" x="383.3" y="724.4" text-anchor="middle" textLength="11.4" lengthAdjust="spacingAndGlyphs">8</text>
<line class="ln" x1="464.7" y1="688" x2="464.7" y2="697.53"/>
<text class="tk" x="465.5" y="724.4" text-anchor="middle" textLength="22" lengthAdjust="spacingAndGlyphs">10</text>
<line class="ln" x1="545.9" y1="688" x2="545.9" y2="697.53"/>
<text class="tk" x="546.6" y="724.4" text-anchor="middle" textLength="22" lengthAdjust="spacingAndGlyphs">12</text>
<line class="ln" x1="629.1" y1="688" x2="629.1" y2="697.53"/>
<text class="tk" x="628.5" y="724.4" text-anchor="middle" textLength="22" lengthAdjust="spacingAndGlyphs">14</text>
<line class="ln" x1="710.8" y1="688" x2="710.8" y2="697.53"/>
<text class="tk" x="710.2" y="724.4" text-anchor="middle" textLength="22" lengthAdjust="spacingAndGlyphs">16</text>
<line class="ln" x1="86.47" y1="75.2" x2="96" y2="75.2"/>
<text class="tk" x="78.8" y="83" text-anchor="end" textLength="11.4" lengthAdjust="spacingAndGlyphs">8</text>
<line class="ln" x1="86.47" y1="156.95" x2="96" y2="156.95"/>
<text class="tk" x="78.8" y="164" text-anchor="end" textLength="11.4" lengthAdjust="spacingAndGlyphs">7</text>
<line class="ln" x1="86.47" y1="238.3" x2="96" y2="238.3"/>
<text class="tk" x="78.8" y="247.3" text-anchor="end" textLength="11.4" lengthAdjust="spacingAndGlyphs">6</text>
<line class="ln" x1="86.47" y1="319.8" x2="96" y2="319.8"/>
<text class="tk" x="78.8" y="329.4" text-anchor="end" textLength="11.4" lengthAdjust="spacingAndGlyphs">5</text>
<line class="ln" x1="86.47" y1="403.45" x2="96" y2="403.45"/>
<text class="tk" x="78.8" y="410.65" text-anchor="end" textLength="11.4" lengthAdjust="spacingAndGlyphs">4</text>
<line class="ln" x1="86.47" y1="485.2" x2="96" y2="485.2"/>
<text class="tk" x="78.8" y="492.2" text-anchor="end" textLength="11.4" lengthAdjust="spacingAndGlyphs">3</text>
<line class="ln" x1="86.47" y1="566" x2="96" y2="566"/>
<text class="tk" x="78.8" y="574.2" text-anchor="end" textLength="11.4" lengthAdjust="spacingAndGlyphs">2</text>
<line class="ln" x1="86.47" y1="647.85" x2="96" y2="647.85"/>
<text class="tk" x="78.8" y="656.5" text-anchor="end" textLength="11.4" lengthAdjust="spacingAndGlyphs">1</text>
<text class="lab" transform="translate(423.2,767.2) skewX(-5) scale(1.05,1)" text-anchor="middle">T</text>
<text class="lab" transform="translate(43.6,362) rotate(-90) skewX(-5) scale(1.04,1)" text-anchor="middle">N</text>
<g class="cb" shape-rendering="crispEdges">
<rect x="796" y="685.45" width="32.2" height="3.15" fill="#440154"/>
<rect x="796" y="682.89" width="32.2" height="3.15" fill="#440256"/>
<rect x="796" y="680.34" width="32.2" height="3.15" fill="#450457"/>
<rect x="796" y="677.79" width="32.2" height="3.15" fill="#450559"/>
<rect x="796" y="675.23" width="32.2" height="3.15" fill="#46075a"/>
<rect x="796" y="672.68" width="32.2" height="3.15" fill="#46085c"/>
<rect x="796" y="670.13" width="32.2" height="3.15" fill="#460a5d"/>
<rect x="796" y="667.58" width="32.2" height="3.15" fill="#460b5e"/>
<rect x="796" y="665.02" width="32.2" height="3.15" fill="#470d60"/>
<rect x="796" y="662.47" width="32.2" height="3.15" fill="#470e61"/>
<rect x="796" y="659.92" width="32.2" height="3.15" fill="#471063"/>
<rect x="796" y="657.36" width="32.2" height="3.15" fill="#471164"/>
<rect x="796" y="654.81" width="32.2" height="3.15" fill="#471365"/>
<rect x="796" y="652.26" width="32.2" height="3.15" fill="#481467"/>
<rect x="796" y="649.7" width="32.2" height="3.15" fill="#481668"/>
<rect x="796" y="647.15" width="32.2" height="3.15" fill="#481769"/>
<rect x="796" y="644.6" width="32.2" height="3.15" fill="#48186a"/>
<rect x="796" y="642.04" width="32.2" height="3.15" fill="#481a6c"/>
<rect x="796" y="639.49" width="32.2" height="3.15" fill="#481b6d"/>
<rect x="796" y="636.94" width="32.2" height="3.15" fill="#481c6e"/>
<rect x="796" y="634.38" width="32.2" height="3.15" fill="#481d6f"/>
<rect x="796" y="631.83" width="32.2" height="3.15" fill="#481f70"/>
<rect x="796" y="629.28" width="32.2" height="3.15" fill="#482071"/>
<rect x="796" y="626.73" width="32.2" height="3.15" fill="#482173"/>
<rect x="796" y="624.17" width="32.2" height="3.15" fill="#482374"/>
<rect x="796" y="621.62" width="32.2" height="3.15" fill="#482475"/>
<rect x="796" y="619.07" width="32.2" height="3.15" fill="#482576"/>
<rect x="796" y="616.51" width="32.2" height="3.15" fill="#482677"/>
<rect x="796" y="613.96" width="32.2" height="3.15" fill="#482878"/>
<rect x="796" y="611.41" width="32.2" height="3.15" fill="#482979"/>
<rect x="796" y="608.85" width="32.2" height="3.15" fill="#472a7a"/>
<rect x="796" y="606.3" width="32.2" height="3.15" fill="#472c7a"/>
<rect x="796" y="603.75" width="32.2" height="3.15" fill="#472d7b"/>
<rect x="796" y="601.19" width="32.2" height="3.15" fill="#472e7c"/>
<rect x="796" y="598.64" width="32.2" height="3.15" fill="#472f7d"/>
<rect x="796" y="596.09" width="32.2" height="3.15" fill="#46307e"/>
<rect x="796" y="593.53" width="32.2" height="3.15" fill="#46327e"/>
<rect x="796" y="590.98" width="32.2" height="3.15" fill="#46337f"/>
<rect x="796" y="588.43" width="32.2" height="3.15" fill="#463480"/>
<rect x="796" y="585.88" width="32.2" height="3.15" fill="#453581"/>
<rect x="796" y="583.32" width="32.2" height="3.15" fill="#453781"/>
<rect x="796" y="580.77" width="32.2" height="3.15" fill="#453882"/>
<rect x="796" y="578.22" width="32.2" height="3.15" fill="#443983"/>
<rect x="796" y="575.66" width="32.2" height="3.15" fill="#443a83"/>
<rect x="796" y="573.11" width="32.2" height="3.15" fill="#443b84"/>
<rect x="796" y="570.56" width="32.2" height="3.15" fill="#433d84"/>
<rect x="796" y="568" width="32.2" height="3.15" fill="#433e85"/>
<rect x="796" y="565.45" width="32.2" height="3.15" fill="#423f85"/>
<rect x="796" y="562.9" width="32.2" height="3.15" fill="#424086"/>
<rect x="796" y="560.34" width="32.2" height="3.15" fill="#424186"/>
<rect x="796" y="557.79" width="32.2" height="3.15" fill="#414287"/>
<rect x="796" y="555.24" width="32.2" height="3.15" fill="#414487"/>
<rect x="796" y="552.68" width="32.2" height="3.15" fill="#404588"/>
<rect x="796" y="550.13" width="32.2" height="3.15" fill="#404688"/>
<rect x="796" y="547.58" width="32.2" height="3.15" fill="#3f4788"/>
<rect x="796" y="545.02" width="32.2" height="3.15" fill="#3f4889"/>
<rect x="796" y="542.47" width="32.2" height="3.15" fill="#3e4989"/>
<rect x="796" y="539.92" width="32.2" height="3.15" fill="#3e4a89"/>
<rect x="796" y="537.37" width="32.2" height="3.15" fill="#3e4c8a"/>
<rect x="796" y="534.81" width="32.2" height="3.15" fill="#3d4d8a"/>
<rect x="796" y="532.26" width="32.2" height="3.15" fill="#3d4e8a"/>
<rect x="796" y="529.71" width="32.2" height="3.15" fill="#3c4f8a"/>
<rect x="796" y="527.15" width="32.2" height="3.15" fill="#3c508b"/>
<rect x="796" y="524.6" width="32.2" height="3.15" fill="#3b518b"/>
<rect x="796" y="522.05" width="32.2" height="3.15" fill="#3b528b"/>
<rect x="796" y="519.49" width="32.2" height="3.15" fill="#3a538b"/>
<rect x="796" y="516.94" width="32.2" height="3.15" fill="#3a548c"/>
<rect x="796" y="514.39" width="32.2" height="3.15" fill="#39558c"/>
<rect x="796" y="511.83" width="32.2" height="3.15" fill="#39568c"/>
<rect x="796" y="509.28" width="32.2" height="3.15" fill="#38588c"/>
<rect x="796" y="506.73" width="32.2" height="3.15" fill="#38598c"/>
<rect x="796" y="504.17" width="32.2" height="3.15" fill="#375a8c"/>
<rect x="796" y="501.62" width="32.2" height="3.15" fill="#375b8d"/>
<rect x="796" y="499.07" width="32.2" height="3.15" fill="#365c8d"/>
<rect x="796" y="496.52" width="32.2" height="3.15" fill="#365d8d"/>
<rect x="796" y="493.96" width="32.2" height="3.15" fill="#355e8d"/>
<rect x="796" y="491.41" width="32.2" height="3.15" fill="#355f8d"/>
<rect x="796" y="488.86" width="32.2" height="3.15" fill="#34608d"/>
<rect x="796" y="486.3" width="32.2" height="3.15" fill="#34618d"/>
<rect x="796" y="483.75" width="32.2" height="3.15" fill="#33628d"/>
<rect x="796" y="481.2" width="32.2" height="3.15" fill="#33638d"/>
<rect x="796" y="478.64" width="32.2" height="3.15" fill="#32648e"/>
<rect x="796" y="476.09" width="32.2" height="3.15" fill="#32658e"/>
<rect x="796" y="473.54" width="32.2" height="3.15" fill="#31668e"/>
<rect x="796" y="470.98" width="32.2" height="3.15" fill="#31678e"/>
<rect x="796" y="468.43" width="32.2" height="3.15" fill="#31688e"/>
<rect x="796" y="465.88" width="32.2" height="3.15" fill="#30698e"/>
<rect x="796" y="463.32" width="32.2" height="3.15" fill="#306a8e"/>
<rect x="796" y="460.77" width="32.2" height="3.15" fill="#2f6b8e"/>
<rect x="796" y="458.22" width="32.2" height="3.15" fill="#2f6c8e"/>
<rect x="796" y="455.67" width="32.2" height="3.15" fill="#2e6d8e"/>
<rect x="796" y="453.11" width="32.2" height="3.15" fill="#2e6e8e"/>
<rect x="796" y="450.56" width="32.2" height="3.15" fill="#2e6f8e"/>
<rect x="796" y="448.01" width="32.2" height="3.15" fill="#2d708e"/>
<rect x="796" y="445.45" width="32.2" height="3.15" fill="#2d718e"/>
<rect x="796" y="442.9" width="32.2" height="3.15" fill="#2c718e"/>
<rect x="796" y="440.35" width="32.2" height="3.15" fill="#2c728e"/>
<rect x="796" y="437.79" width="32.2" height="3.15" fill="#2c738e"/>
<rect x="796" y="435.24" width="32.2" height="3.15" fill="#2b748e"/>
<rect x="796" y="432.69" width="32.2" height="3.15" fill="#2b758e"/>
<rect x="796" y="430.13" width="32.2" height="3.15" fill="#2a768e"/>
<rect x="796" y="427.58" width="32.2" height="3.15" fill="#2a778e"/>
<rect x="796" y="425.03" width="32.2" height="3.15" fill="#2a788e"/>
<rect x="796" y="422.47" width="32.2" height="3.15" fill="#29798e"/>
<rect x="796" y="419.92" width="32.2" height="3.15" fill="#297a8e"/>
<rect x="796" y="417.37" width="32.2" height="3.15" fill="#297b8e"/>
<rect x="796" y="414.82" width="32.2" height="3.15" fill="#287c8e"/>
<rect x="796" y="412.26" width="32.2" height="3.15" fill="#287d8e"/>
<rect x="796" y="409.71" width="32.2" height="3.15" fill="#277e8e"/>
<rect x="796" y="407.16" width="32.2" height="3.15" fill="#277f8e"/>
<rect x="796" y="404.6" width="32.2" height="3.15" fill="#27808e"/>
<rect x="796" y="402.05" width="32.2" height="3.15" fill="#26818e"/>
<rect x="796" y="399.5" width="32.2" height="3.15" fill="#26828e"/>
<rect x="796" y="396.94" width="32.2" height="3.15" fill="#26828e"/>
<rect x="796" y="394.39" width="32.2" height="3.15" fill="#25838e"/>
<rect x="796" y="391.84" width="32.2" height="3.15" fill="#25848e"/>
<rect x="796" y="389.28" width="32.2" height="3.15" fill="#25858e"/>
<rect x="796" y="386.73" width="32.2" height="3.15" fill="#24868e"/>
<rect x="796" y="384.18" width="32.2" height="3.15" fill="#24878e"/>
<rect x="796" y="381.62" width="32.2" height="3.15" fill="#23888e"/>
<rect x="796" y="379.07" width="32.2" height="3.15" fill="#23898e"/>
<rect x="796" y="376.52" width="32.2" height="3.15" fill="#238a8d"/>
<rect x="796" y="373.97" width="32.2" height="3.15" fill="#228b8d"/>
<rect x="796" y="371.41" width="32.2" height="3.15" fill="#228c8d"/>
<rect x="796" y="368.86" width="32.2" height="3.15" fill="#228d8d"/>
<rect x="796" y="366.31" width="32.2" height="3.15" fill="#218e8d"/>
<rect x="796" y="363.75" width="32.2" height="3.15" fill="#218f8d"/>
<rect x="796" y="361.2" width="32.2" height="3.15" fill="#21908d"/>
<rect x="796" y="358.65" width="32.2" height="3.15" fill="#21918c"/>
<rect x="796" y="356.09" width="32.2" height="3.15" fill="#20928c"/>
<rect x="796" y="353.54" width="32.2" height="3.15" fill="#20928c"/>
<rect x="796" y="350.99" width="32.2" height="3.15" fill="#20938c"/>
<rect x="796" y="348.43" width="32.2" height="3.15" fill="#1f948c"/>
<rect x="796" y="345.88" width="32.2" height="3.15" fill="#1f958b"/>
<rect x="796" y="343.33" width="32.2" height="3.15" fill="#1f968b"/>
<rect x="796" y="340.77" width="32.2" height="3.15" fill="#1f978b"/>
<rect x="796" y="338.22" width="32.2" height="3.15" fill="#1f988b"/>
<rect x="796" y="335.67" width="32.2" height="3.15" fill="#1f998a"/>
<rect x="796" y="333.12" width="32.2" height="3.15" fill="#1f9a8a"/>
<rect x="796" y="330.56" width="32.2" height="3.15" fill="#1e9b8a"/>
<rect x="796" y="328.01" width="32.2" height="3.15" fill="#1e9c89"/>
<rect x="796" y="325.46" width="32.2" height="3.15" fill="#1e9d89"/>
<rect x="796" y="322.9" width="32.2" height="3.15" fill="#1f9e89"/>
<rect x="796" y="320.35" width="32.2" height="3.15" fill="#1f9f88"/>
<rect x="796" y="317.8" width="32.2" height="3.15" fill="#1fa088"/>
<rect x="796" y="315.24" width="32.2" height="3.15" fill="#1fa188"/>
<rect x="796" y="312.69" width="32.2" height="3.15" fill="#1fa187"/>
<rect x="796" y="310.14" width="32.2" height="3.15" fill="#1fa287"/>
<rect x="796" y="307.58" width="32.2" height="3.15" fill="#20a386"/>
<rect x="796" y="305.03" width="32.2" height="3.15" fill="#20a486"/>
<rect x="796" y="302.48" width="32.2" height="3.15" fill="#21a585"/>
<rect x="796" y="299.93" width="32.2" height="3.15" fill="#21a685"/>
<rect x="796" y="297.37" width="32.2" height="3.15" fill="#22a785"/>
<rect x="796" y="294.82" width="32.2" height="3.15" fill="#22a884"/>
<rect x="796" y="292.27" width="32.2" height="3.15" fill="#23a983"/>
<rect x="796" y="289.71" width="32.2" height="3.15" fill="#24aa83"/>
<rect x="796" y="287.16" width="32.2" height="3.15" fill="#25ab82"/>
<rect x="796" y="284.61" width="32.2" height="3.15" fill="#25ac82"/>
<rect x="796" y="282.05" width="32.2" height="3.15" fill="#26ad81"/>
<rect x="796" y="279.5" width="32.2" height="3.15" fill="#27ad81"/>
<rect x="796" y="276.95" width="32.2" height="3.15" fill="#28ae80"/>
<rect x="796" y="274.39" width="32.2" height="3.15" fill="#29af7f"/>
<rect x="796" y="271.84" width="32.2" height="3.15" fill="#2ab07f"/>
<rect x="796" y="269.29" width="32.2" height="3.15" fill="#2cb17e"/>
<rect x="796" y="266.73" width="32.2" height="3.15" fill="#2db27d"/>
<rect x="796" y="264.18" width="32.2" height="3.15" fill="#2eb37c"/>
<rect x="796" y="261.63" width="32.2" height="3.15" fill="#2fb47c"/>
<rect x="796" y="259.07" width="32.2" height="3.15" fill="#31b57b"/>
<rect x="796" y="256.52" width="32.2" height="3.15" fill="#32b67a"/>
<rect x="796" y="253.97" width="32.2" height="3.15" fill="#34b679"/>
<rect x="796" y="251.42" width="32.2" height="3.15" fill="#35b779"/>
<rect x="796" y="248.86" width="32.2" height="3.15" fill="#37b878"/>
<rect x="796" y="246.31" width="32.2" height="3.15" fill="#38b977"/>
<rect x="796" y="243.76" width="32.2" height="3.15" fill="#3aba76"/>
<rect x="796" y="241.2" width="32.2" height="3.15" fill="#3bbb75"/>
<rect x="796" y="238.65" width="32.2" height="3.15" fill="#3dbc74"/>
<rect x="796" y="236.1" width="32.2" height="3.15" fill="#3fbc73"/>
<rect x="796" y="233.54" width="32.2" height="3.15" fill="#40bd72"/>
<rect x="796" y="230.99" width="32.2" height="3.15" fill="#42be71"/>
<rect x="796" y="228.44" width="32.2" height="3.15" fill="#44bf70"/>
<rect x="796" y="225.88" width="32.2" height="3.15" fill="#46c06f"/>
<rect x="796" y="223.33" width="32.2" height="3.15" fill="#48c16e"/>
<rect x="796" y="220.78" width="32.2" height="3.15" fill="#4ac16d"/>
<rect x="796" y="218.22" width="32.2" height="3.15" fill="#4cc26c"/>
<rect x="796" y="215.67" width="32.2" height="3.15" fill="#4ec36b"/>
<rect x="796" y="213.12" width="32.2" height="3.15" fill="#50c46a"/>
<rect x="796" y="210.57" width="32.2" height="3.15" fill="#52c569"/>
<rect x="796" y="208.01" width="32.2" height="3.15" fill="#54c568"/>
<rect x="796" y="205.46" width="32.2" height="3.15" fill="#56c667"/>
<rect x="796" y="202.91" width="32.2" height="3.15" fill="#58c765"/>
<rect x="796" y="200.35" width="32.2" height="3.15" fill="#5ac864"/>
<rect x="796" y="197.8" width="32.2" height="3.15" fill="#5cc863"/>
<rect x="796" y="195.25" width="32.2" height="3.15" fill="#5ec962"/>
<rect x="796" y="192.69" width="32.2" height="3.15" fill="#60ca60"/>
<rect x="796" y="190.14" width="32.2" height="3.15" fill="#63cb5f"/>
<rect x="796" y="187.59" width="32.2" height="3.15" fill="#65cb5e"/>
<rect x="796" y="185.03" width="32.2" height="3.15" fill="#67cc5c"/>
<rect x="796" y="182.48" width="32.2" height="3.15" fill="#69cd5b"/>
<rect x="796" y="179.93" width="32.2" height="3.15" fill="#6ccd5a"/>
<rect x="796" y="177.38" width="32.2" height="3.15" fill="#6ece58"/>
<rect x="796" y="174.82" width="32.2" height="3.15" fill="#70cf57"/>
<rect x="796" y="172.27" width="32.2" height="3.15" fill="#73d056"/>
<rect x="796" y="169.72" width="32.2" height="3.15" fill="#75d054"/>
<rect x="796" y="167.16" width="32.2" height="3.15" fill="#77d153"/>
<rect x="796" y="164.61" width="32.2" height="3.15" fill="#7ad151"/>
<rect x="796" y="162.06" width="32.2" height="3.15" fill="#7cd250"/>
<rect x="796" y="159.5" width="32.2" height="3.15" fill="#7fd34e"/>
<rect x="796" y="156.95" width="32.2" height="3.15" fill="#81d34d"/>
<rect x="796" y="154.4" width="32.2" height="3.15" fill="#84d44b"/>
<rect x="796" y="151.84" width="32.2" height="3.15" fill="#86d549"/>
<rect x="796" y="149.29" width="32.2" height="3.15" fill="#89d548"/>
<rect x="796" y="146.74" width="32.2" height="3.15" fill="#8bd646"/>
<rect x="796" y="144.18" width="32.2" height="3.15" fill="#8ed645"/>
<rect x="796" y="141.63" width="32.2" height="3.15" fill="#90d743"/>
<rect x="796" y="139.08" width="32.2" height="3.15" fill="#93d741"/>
<rect x="796" y="136.52" width="32.2" height="3.15" fill="#95d840"/>
<rect x="796" y="133.97" width="32.2" height="3.15" fill="#98d83e"/>
<rect x="796" y="131.42" width="32.2" height="3.15" fill="#9bd93c"/>
<rect x="796" y="128.87" width="32.2" height="3.15" fill="#9dd93b"/>
<rect x="796" y="126.31" width="32.2" height="3.15" fill="#a0da39"/>
<rect x="796" y="123.76" width="32.2" height="3.15" fill="#a2da37"/>
<rect x="796" y="121.21" width="32.2" height="3.15" fill="#a5db36"/>
<rect x="796" y="118.65" width="32.2" height="3.15" fill="#a8db34"/>
<rect x="796" y="116.1" width="32.2" height="3.15" fill="#aadc32"/>
<rect x="796" y="113.55" width="32.2" height="3.15" fill="#addc30"/>
<rect x="796" y="110.99" width="32.2" height="3.15" fill="#b0dd2f"/>
<rect x="796" y="108.44" width="32.2" height="3.15" fill="#b2dd2d"/>
<rect x="796" y="105.89" width="32.2" height="3.15" fill="#b5de2b"/>
<rect x="796" y="103.33" width="32.2" height="3.15" fill="#b8de29"/>
<rect x="796" y="100.78" width="32.2" height="3.15" fill="#bade28"/>
<rect x="796" y="98.23" width="32.2" height="3.15" fill="#bddf26"/>
<rect x="796" y="95.67" width="32.2" height="3.15" fill="#c0df25"/>
<rect x="796" y="93.12" width="32.2" height="3.15" fill="#c2df23"/>
<rect x="796" y="90.57" width="32.2" height="3.15" fill="#c5e021"/>
<rect x="796" y="88.02" width="32.2" height="3.15" fill="#c8e020"/>
<rect x="796" y="85.46" width="32.2" height="3.15" fill="#cae11f"/>
<rect x="796" y="82.91" width="32.2" height="3.15" fill="#cde11d"/>
<rect x="796" y="80.36" width="32.2" height="3.15" fill="#d0e11c"/>
<rect x="796" y="77.8" width="32.2" height="3.15" fill="#d2e21b"/>
<rect x="796" y="75.25" width="32.2" height="3.15" fill="#d5e21a"/>
<rect x="796" y="72.7" width="32.2" height="3.15" fill="#d8e219"/>
<rect x="796" y="70.14" width="32.2" height="3.15" fill="#dae319"/>
<rect x="796" y="67.59" width="32.2" height="3.15" fill="#dde318"/>
<rect x="796" y="65.04" width="32.2" height="3.15" fill="#dfe318"/>
<rect x="796" y="62.48" width="32.2" height="3.15" fill="#e2e418"/>
<rect x="796" y="59.93" width="32.2" height="3.15" fill="#e5e419"/>
<rect x="796" y="57.38" width="32.2" height="3.15" fill="#e7e419"/>
<rect x="796" y="54.82" width="32.2" height="3.15" fill="#eae51a"/>
<rect x="796" y="52.27" width="32.2" height="3.15" fill="#ece51b"/>
<rect x="796" y="49.72" width="32.2" height="3.15" fill="#efe51c"/>
<rect x="796" y="47.17" width="32.2" height="3.15" fill="#f1e51d"/>
<rect x="796" y="44.61" width="32.2" height="3.15" fill="#f4e61e"/>
<rect x="796" y="42.06" width="32.2" height="3.15" fill="#f6e620"/>
<rect x="796" y="39.51" width="32.2" height="3.15" fill="#f8e621"/>
<rect x="796" y="36.95" width="32.2" height="3.15" fill="#fbe723"/>
<rect x="796" y="34.4" width="32.2" height="3.15" fill="#fde725"/>
</g>
<rect class="ln" x="796" y="34.4" width="32.2" height="653.6"/>
<line class="ln" x1="828.2" y1="156.5" x2="837.73" y2="156.5"/>
<text class="tk" x="844.6" y="164.2" textLength="54.2" lengthAdjust="spacingAndGlyphs">0.700</text>
<line class="ln" x1="828.2" y1="280.6" x2="837.73" y2="280.6"/>
<text class="tk" x="844.6" y="288.3" textLength="54.2" lengthAdjust="spacingAndGlyphs">0.695</text>
<line class="ln" x1="828.2" y1="404.7" x2="837.73" y2="404.7"/>
<text class="tk" x="844.6" y="412.4" textLength="54.2" lengthAdjust="spacingAndGlyphs">0.690</text>
<line class="ln" x1="828.2" y1="528.8" x2="837.73" y2="528.8"/>
<text class="tk" x="844.6" y="536.5" textLength="54.2" lengthAdjust="spacingAndGlyphs">0.685</text>
<line class="ln" x1="828.2" y1="652.9" x2="837.73" y2="652.9"/>
<text class="tk" x="844.6" y="660.6" textLength="54.2" lengthAdjust="spacingAndGlyphs">0.680</text>
<g class="cap"><text class="p" transform="translate(426.69,888.56) scale(0.9586,1.0741)">(</text><text class="b" transform="translate(449.78,888.63) scale(1.0836,1.0734)">d</text><text class="p" transform="translate(496.00,888.56) scale(0.9241,1.0741)">)</text></g>
</g>
</svg>
</body>
</html>
